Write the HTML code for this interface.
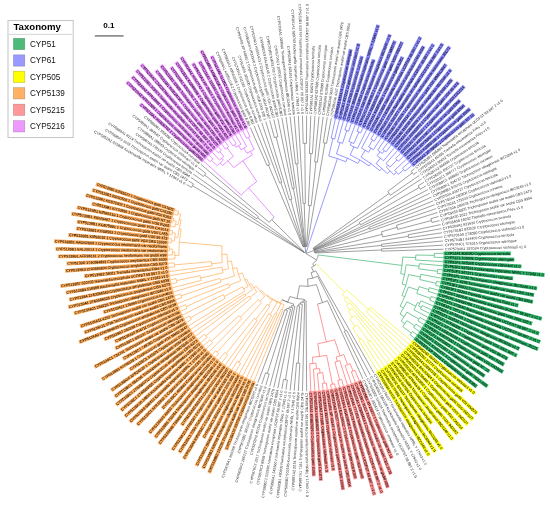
<!DOCTYPE html>
<html><head><meta charset="utf-8"><title>Phylogenetic tree</title>
<style>html,body{margin:0;padding:0;background:#fff}svg{display:block}text{font-family:"Liberation Sans",Arial,sans-serif}</style>
</head><body>
<svg width="550" height="505" viewBox="0 0 550 505">
<rect width="550" height="505" fill="#fff"/>
<g stroke-linecap="butt">
<path d="M305.33 253.03A0.60 0.60 0 0 1 306.31 253.72M305.33 253.03L304.22 252.18M304.08 252.37A2.00 2.00 0 0 1 304.38 251.99M304.08 252.37L192.49 185.69M191.48 187.40A132.00 132.00 0 0 1 193.52 183.99M191.48 187.40L186.46 184.50M193.52 183.99L188.59 180.94M304.13 252.30L190.82 177.45M304.19 252.21L257.55 217.74M256.75 218.84A60.00 60.00 0 0 1 258.36 216.66M256.75 218.84L193.16 174.02M258.36 216.66L204.60 175.02M203.44 176.55A128.00 128.00 0 0 1 205.79 173.51M203.44 176.55L195.60 170.67M205.79 173.51L198.14 167.39M304.38 251.99L271.64 219.68M269.22 222.33A48.00 48.00 0 0 1 274.25 217.22M269.22 222.33L200.77 164.19M305.73 252.80L305.00 246.45M303.07 246.95A7.00 7.00 0 0 1 306.99 246.50M303.07 246.95L268.40 164.99M267.07 165.56A96.00 96.00 0 0 1 269.73 164.43M267.07 165.56L250.21 127.31M269.73 164.43L254.03 125.70M303.47 246.80L280.79 182.69M279.72 183.08A75.00 75.00 0 0 1 281.85 182.33M279.72 183.08L257.89 124.20M281.85 182.33L261.80 122.81M303.92 246.66L290.74 199.46M289.52 199.82A56.00 56.00 0 0 1 291.96 199.14M289.52 199.82L265.75 121.55M291.96 199.14L276.14 137.12M274.39 137.58A120.00 120.00 0 0 1 277.89 136.69M274.39 137.58L269.73 120.40M277.89 136.69L273.75 119.38M304.48 246.53L293.36 188.58M292.39 188.78A66.00 66.00 0 0 1 294.34 188.40M292.39 188.78L277.80 118.47M294.34 188.40L281.87 117.69M304.79 246.47L285.97 117.03M305.11 246.43L296.88 163.84M295.53 163.99A90.00 90.00 0 0 1 298.23 163.72M295.53 163.99L290.08 116.50M298.23 163.72L294.20 116.09M305.58 246.40L304.22 203.42M303.09 203.47A50.00 50.00 0 0 1 305.35 203.40M303.09 203.47L298.34 115.80M305.35 203.40L304.81 143.40M303.15 143.43A110.00 110.00 0 0 1 306.46 143.40M303.15 143.43L302.48 115.64M306.46 143.40L306.63 115.60M306.37 246.42L309.70 205.56M308.25 205.46A48.00 48.00 0 0 1 311.13 205.70M308.25 205.46L310.91 153.53M309.41 153.47A100.00 100.00 0 0 1 312.42 153.62M309.41 153.47L310.77 115.69M312.42 153.62L314.92 115.90M311.13 205.70L316.02 161.97M314.65 161.83A92.00 92.00 0 0 1 317.40 162.13M314.65 161.83L319.05 116.24M317.40 162.13L323.17 116.70M306.99 246.50L324.92 143.04M323.25 142.77A112.00 112.00 0 0 1 326.57 143.34M323.25 142.77L327.27 117.28M326.57 143.34L331.36 117.99M306.37 253.20L314.30 250.44M313.10 248.14A9.00 9.00 0 0 1 314.79 252.99M313.10 248.14L389.16 193.33M387.79 191.46A102.75 102.75 0 0 1 390.50 195.23M387.79 191.46L412.39 172.87M411.17 171.28A133.59 133.59 0 0 1 413.59 174.49M411.17 171.28L414.49 168.69M413.59 174.49L416.99 172.00M390.50 195.23L419.39 175.38M313.37 248.53L421.68 178.84M313.68 249.05L359.91 223.56M359.22 222.34A61.79 61.79 0 0 1 360.57 224.79M359.22 222.34L419.13 187.51M418.13 185.81A131.09 131.09 0 0 1 420.11 189.22M418.13 185.81L423.87 182.36M420.11 189.22L425.96 185.94M360.57 224.79L427.93 189.59M313.90 249.47L429.80 193.29M314.01 249.72L431.55 197.05M314.17 250.09L369.24 228.34M368.86 227.39A68.21 68.21 0 0 1 369.61 229.30M368.86 227.39L433.19 200.86M369.61 229.30L434.71 204.71M314.31 250.48L436.12 208.62M314.53 251.22L382.11 234.36M381.43 231.79A78.65 78.65 0 0 1 382.72 236.95M381.43 231.79L397.12 227.30M396.51 225.25A94.98 94.98 0 0 1 397.69 229.37M396.51 225.25L437.41 212.56M397.69 229.37L431.41 220.55M430.90 218.67A129.84 129.84 0 0 1 431.89 222.44M430.90 218.67L438.58 216.53M431.89 222.44L439.63 220.55M382.72 236.95L440.55 224.59M314.68 251.92L408.42 236.26M408.15 234.72A104.05 104.05 0 0 1 408.67 237.80M408.15 234.72L441.36 228.65M408.67 237.80L442.04 232.74M314.75 252.45L381.60 245.39M381.47 244.25A76.22 76.22 0 0 1 381.71 246.53M381.47 244.25L442.60 236.85M381.71 246.53L443.04 240.98M314.79 252.99L381.68 249.97M381.62 248.83A75.95 75.95 0 0 1 381.72 251.11M381.62 248.83L443.35 245.11M381.72 251.11L443.54 249.25M306.31 253.72L316.44 259.96M318.20 254.95A12.50 12.50 0 0 1 312.74 263.79M312.74 263.79L314.13 265.87M316.39 264.02A15.00 15.00 0 0 1 311.56 267.25M311.56 267.25L313.47 271.87M315.70 270.78A20.00 20.00 0 0 1 311.14 272.68M315.70 270.78L373.98 373.15M311.14 272.68L312.66 278.17M317.50 276.28A25.70 25.70 0 0 1 307.54 279.04M317.50 276.28L345.39 330.87M346.55 330.27A87.00 87.00 0 0 1 344.22 331.46M346.55 330.27L370.35 375.15M344.22 331.46L366.65 377.03M307.54 279.04L308.03 286.32M316.41 284.65A33.00 33.00 0 0 1 299.50 285.79M316.41 284.65L322.52 302.64M327.35 300.72A52.00 52.00 0 0 1 317.53 304.06M327.35 300.72L362.91 378.81M299.50 285.79L297.02 298.55M304.48 299.38A46.00 46.00 0 0 1 289.80 296.53M304.48 299.38L304.43 300.88M306.09 300.90A47.50 47.50 0 0 1 302.78 300.80M306.09 300.90L306.63 391.20M302.78 300.80L302.69 302.30M304.62 302.39A49.00 49.00 0 0 1 300.76 302.14M304.62 302.39L302.48 391.16M300.76 302.14L300.55 304.13M302.27 304.28A51.00 51.00 0 0 1 298.84 303.92M302.27 304.28L298.19 363.14M299.84 363.24A110.00 110.00 0 0 1 296.54 363.01M299.84 363.24L298.34 391.00M296.54 363.01L294.20 390.71M298.84 303.92L298.57 305.90M299.75 306.05A53.00 53.00 0 0 1 297.38 305.73M299.75 306.05L290.08 390.30M297.38 305.73L285.47 379.78M287.38 380.07A128.00 128.00 0 0 1 283.57 379.46M287.38 380.07L285.97 389.77M283.57 379.46L281.87 389.11M289.80 296.53L287.71 302.15M293.66 303.96A52.00 52.00 0 0 1 288.30 302.37M293.66 303.96L293.19 305.91M294.83 306.27A54.00 54.00 0 0 1 291.57 305.49M294.83 306.27L277.80 388.33M291.57 305.49L291.04 307.42M292.78 307.86A56.00 56.00 0 0 1 289.32 306.92M292.78 307.86L273.75 387.42M289.32 306.92L288.73 308.83M290.62 309.38A58.00 58.00 0 0 1 286.87 308.22M290.62 309.38L269.73 386.40M286.87 308.22L286.21 310.11M287.50 310.54A60.00 60.00 0 0 1 284.94 309.66M287.50 310.54L267.37 373.40M269.18 373.96A126.00 126.00 0 0 1 265.57 372.80M269.18 373.96L265.75 385.25M265.57 372.80L261.80 383.99M284.94 309.66L257.89 382.60" stroke="#6c6c6c" fill="none" stroke-width="0.66"/>
<path d="M274.25 217.22L248.62 187.83M241.22 195.11A87.00 87.00 0 0 1 256.84 181.48M241.22 195.11L203.51 161.07M256.84 181.48L242.77 160.82M233.71 167.68A112.00 112.00 0 0 1 252.48 154.90M233.71 167.68L227.89 160.76M222.62 165.46A121.05 121.05 0 0 1 233.42 156.38M222.62 165.46L220.22 162.92M217.21 165.87A124.54 124.54 0 0 1 223.33 160.08M217.21 165.87L211.54 160.27M210.15 161.70A132.51 132.51 0 0 1 212.95 158.86M210.15 161.70L206.33 158.03M212.95 158.86L209.24 155.09M223.33 160.08L221.68 158.20M219.55 160.13A127.04 127.04 0 0 1 223.85 156.33M219.55 160.13L212.25 152.22M223.85 156.33L219.91 151.67M218.39 152.97A133.14 133.14 0 0 1 221.45 150.39M218.39 152.97L215.33 149.46M221.45 150.39L218.50 146.78M233.42 156.38L227.06 147.86M225.48 149.05A131.68 131.68 0 0 1 228.66 146.69M225.48 149.05L221.75 144.20M228.66 146.69L225.07 141.72M252.48 154.90L250.51 151.26M246.90 153.31A116.14 116.14 0 0 1 254.20 149.35M246.90 153.31L243.86 148.14M241.11 149.80A122.14 122.14 0 0 1 246.65 146.54M241.11 149.80L238.58 145.75M236.17 147.30A126.91 126.91 0 0 1 241.02 144.26M236.17 147.30L234.52 144.79M232.89 145.87A129.91 129.91 0 0 1 236.16 143.73M232.89 145.87L228.47 139.34M236.16 143.73L231.94 137.07M241.02 144.26L235.47 134.90M246.65 146.54L239.07 132.84M254.20 149.35L248.27 137.39M246.53 138.27A129.49 129.49 0 0 1 250.02 136.54M246.53 138.27L242.72 130.88M250.02 136.54L246.44 129.04" stroke="#DD5CFF" fill="none" stroke-width="0.66"/>
<path d="M305.99 252.83L337.43 158.54M328.76 156.07A100.00 100.00 0 0 1 345.85 161.77M328.76 156.07L332.90 138.55M331.17 138.16A118.00 118.00 0 0 1 334.62 138.97M331.17 138.16L335.42 118.82M334.62 138.97L339.46 119.77M345.85 161.77L347.45 158.10M336.48 154.03A104.00 104.00 0 0 1 357.89 163.39M336.48 154.03L340.02 142.56M337.51 141.82A116.00 116.00 0 0 1 342.51 143.36M337.51 141.82L343.46 120.85M342.51 143.36L346.76 130.61M344.91 130.01A129.44 129.44 0 0 1 348.60 131.24M344.91 130.01L347.43 122.04M348.60 131.24L351.37 123.35M357.89 163.39L359.90 159.93M350.19 154.94A108.00 108.00 0 0 1 369.05 165.86M350.19 154.94L353.89 146.74M350.25 145.17A117.00 117.00 0 0 1 357.47 148.43M350.25 145.17L351.37 142.43M348.86 141.43A119.96 119.96 0 0 1 353.87 143.49M348.86 141.43L355.26 124.78M353.87 143.49L358.88 132.03M357.05 131.25A132.47 132.47 0 0 1 360.70 132.84M357.05 131.25L359.11 126.33M360.70 132.84L362.91 127.99M357.47 148.43L366.65 129.77M369.05 165.86L370.81 163.43M361.08 157.15A111.00 111.00 0 0 1 379.83 170.69M361.08 157.15L365.07 150.21M361.54 148.26A119.00 119.00 0 0 1 368.53 152.27M361.54 148.26L370.35 131.65M368.53 152.27L371.04 148.23M368.65 146.78A123.76 123.76 0 0 1 373.39 149.73M368.65 146.78L372.58 140.10M370.87 139.11A131.52 131.52 0 0 1 374.28 141.12M370.87 139.11L373.98 133.65M374.28 141.12L377.55 135.75M373.39 149.73L381.06 137.97M379.83 170.69L381.83 168.46M376.08 163.64A114.00 114.00 0 0 1 387.25 173.64M376.08 163.64L380.40 158.13M377.13 155.66A121.00 121.00 0 0 1 383.58 160.71M377.13 155.66L379.99 151.74M377.68 150.09A125.86 125.86 0 0 1 382.27 153.44M377.68 150.09L384.50 140.28M382.27 153.44L384.37 150.69M382.82 149.52A129.32 129.32 0 0 1 385.91 151.88M382.82 149.52L387.87 142.70M385.91 151.88L391.16 145.22M383.58 160.71L394.38 147.84M387.25 173.64L390.11 170.84M386.30 167.12A118.00 118.00 0 0 1 393.75 174.73M386.30 167.12L388.01 165.29M386.00 163.46A120.50 120.50 0 0 1 389.98 167.17M386.00 163.46L397.51 150.55M389.98 167.17L397.03 159.95M395.61 158.59A130.60 130.60 0 0 1 398.42 161.33M395.61 158.59L400.56 153.36M398.42 161.33L403.53 156.25M393.75 174.73L396.52 172.26M394.66 170.23A121.71 121.71 0 0 1 398.33 174.33M394.66 170.23L406.41 159.24M398.33 174.33L403.75 169.69M402.48 168.23A128.85 128.85 0 0 1 405.00 171.18M402.48 168.23L409.20 162.31M405.00 171.18L411.89 165.46" stroke="#6464FF" fill="none" stroke-width="0.66"/>
<path d="M318.20 254.95L402.06 265.40M402.73 257.05A97.00 97.00 0 0 1 400.66 273.66M402.73 257.05L415.72 257.54M415.79 255.05A110.00 110.00 0 0 1 415.60 260.02M415.79 255.05L434.28 255.33M434.29 253.40A128.49 128.49 0 0 1 434.24 257.27M434.29 253.40L443.60 253.40M434.24 257.27L443.54 257.55M415.60 260.02L443.35 261.69M400.66 273.66L404.57 274.49M406.16 264.77A101.00 101.00 0 0 1 402.05 284.02M406.16 264.77L419.07 266.24M419.34 263.68A114.00 114.00 0 0 1 418.76 268.79M419.34 263.68L443.04 265.82M418.76 268.79L437.44 271.34M437.70 269.35A132.86 132.86 0 0 1 437.16 273.31M437.70 269.35L442.60 269.95M437.16 273.31L442.04 274.06M402.05 284.02L405.86 285.23M408.64 274.58A105.00 105.00 0 0 1 401.98 295.53M408.64 274.58L420.39 277.00M420.90 274.41A117.00 117.00 0 0 1 419.83 279.58M420.90 274.41L441.36 278.15M419.83 279.58L436.13 283.32M436.57 281.36A133.72 133.72 0 0 1 435.67 285.28M436.57 281.36L440.55 282.21M435.67 285.28L439.63 286.25M401.98 295.53L404.73 296.73M408.45 286.96A108.00 108.00 0 0 1 400.07 306.09M408.45 286.96L417.96 290.07M419.01 286.68A118.00 118.00 0 0 1 416.80 293.42M419.01 286.68L428.82 289.56M429.35 287.70A128.22 128.22 0 0 1 428.26 291.40M429.35 287.70L438.58 290.27M428.26 291.40L437.41 294.24M416.80 293.42L430.50 298.36M431.16 296.48A132.56 132.56 0 0 1 429.81 300.23M431.16 296.48L436.12 298.18M429.81 300.23L434.71 302.09M400.07 306.09L403.56 308.04M406.77 301.88A112.00 112.00 0 0 1 399.99 314.00M406.77 301.88L415.78 306.20M417.50 302.45A122.00 122.00 0 0 1 413.93 309.90M417.50 302.45L419.79 303.46M420.89 300.87A124.50 124.50 0 0 1 418.64 306.02M420.89 300.87L433.19 305.94M418.64 306.02L421.35 307.28M422.15 305.54A127.50 127.50 0 0 1 420.53 309.02M422.15 305.54L431.55 309.75M420.53 309.02L429.80 313.51M413.93 309.90L427.93 317.21M399.99 314.00L404.19 316.71M406.95 312.20A117.00 117.00 0 0 1 401.24 321.08M406.95 312.20L418.94 319.17M419.91 317.46A130.87 130.87 0 0 1 417.93 320.87M419.91 317.46L425.96 320.86M417.93 320.87L423.87 324.44M401.24 321.08L404.89 323.68M406.96 320.66A121.48 121.48 0 0 1 402.73 326.63M406.96 320.66L414.77 325.85M415.84 324.21A130.85 130.85 0 0 1 413.66 327.48M415.84 324.21L421.68 327.96M413.66 327.48L419.39 331.42M402.73 326.63L411.37 333.15M412.56 331.56A132.31 132.31 0 0 1 410.16 334.73M412.56 331.56L416.99 334.80M410.16 334.73L414.49 338.11" stroke="#35AE6A" fill="none" stroke-width="0.66"/>
<path d="M316.39 264.02L344.64 292.34M346.79 290.07A55.00 55.00 0 0 1 342.37 294.48M346.79 290.07L368.41 309.40M370.47 307.01A84.00 84.00 0 0 1 366.26 311.71M370.47 307.01L411.89 341.34M368.83 308.93L409.20 344.49M366.26 311.71L380.65 325.60M381.73 324.47A104.00 104.00 0 0 1 379.56 326.72M381.73 324.47L406.41 347.56M379.56 326.72L403.53 350.55M342.37 294.48L345.69 298.22M347.06 296.96A60.00 60.00 0 0 1 344.28 299.44M347.06 296.96L400.56 353.44M344.28 299.44L348.13 304.04M349.73 302.66A66.00 66.00 0 0 1 346.49 305.37M349.73 302.66L397.51 356.25M346.49 305.37L350.19 310.09M352.08 308.56A72.00 72.00 0 0 1 348.24 311.56M352.08 308.56L394.38 358.96M348.24 311.56L352.37 317.21M354.74 315.42A79.00 79.00 0 0 1 349.94 318.92M354.74 315.42L391.16 361.58M349.94 318.92L354.97 326.38M357.14 324.87A88.00 88.00 0 0 1 352.75 327.83M357.14 324.87L368.81 341.12M370.12 340.16A108.00 108.00 0 0 1 367.48 342.05M370.12 340.16L387.87 364.10M367.48 342.05L384.50 366.52M352.75 327.83L360.22 339.67M361.51 338.84A102.00 102.00 0 0 1 358.91 340.48M361.51 338.84L381.06 368.83M358.91 340.48L377.55 371.05" stroke="#F5EE30" fill="none" stroke-width="0.66"/>
<path d="M317.53 304.06L326.32 342.06M334.60 339.72A91.00 91.00 0 0 1 317.86 343.60M334.60 339.72L339.98 355.85M343.80 354.49A108.00 108.00 0 0 1 336.10 357.06M343.80 354.49L347.63 364.66M350.13 363.69A118.87 118.87 0 0 1 345.11 365.58M350.13 363.69L353.09 371.07M354.86 370.34A126.81 126.81 0 0 1 351.32 371.76M354.86 370.34L359.11 380.47M351.32 371.76L355.26 382.02M345.11 365.58L351.37 383.45M336.10 357.06L337.34 361.32M339.77 360.58A112.43 112.43 0 0 1 334.90 362.00M339.77 360.58L347.43 384.76M334.90 362.00L339.72 379.97M341.62 379.45A131.04 131.04 0 0 1 337.81 380.47M341.62 379.45L343.46 385.95M337.81 380.47L339.46 387.03M317.86 343.60L319.59 356.48M326.63 355.29A104.00 104.00 0 0 1 312.48 357.18M326.63 355.29L332.53 384.20M334.50 383.78A133.51 133.51 0 0 1 330.56 384.59M334.50 383.78L335.42 387.98M330.56 384.59L331.36 388.81M312.48 357.18L312.89 363.48M315.99 363.23A110.31 110.31 0 0 1 309.78 363.63M315.99 363.23L316.51 368.86M319.55 368.53A115.95 115.95 0 0 1 313.47 369.10M319.55 368.53L320.09 373.02M322.78 372.67A120.47 120.47 0 0 1 317.38 373.31M322.78 372.67L324.28 383.19M326.23 382.90A131.10 131.10 0 0 1 322.32 383.45M326.23 382.90L327.27 389.52M322.32 383.45L323.17 390.10M317.38 373.31L319.05 390.56M313.47 369.10L314.92 390.90M309.78 363.63L310.77 391.11" stroke="#FF6464" fill="none" stroke-width="0.66"/>
<path d="M282.03 299.65L280.29 303.04M284.06 304.80A55.81 55.81 0 0 1 276.66 301.00M284.06 304.80L281.90 309.89M282.75 310.24A61.34 61.34 0 0 1 281.05 309.52M282.75 310.24L254.03 381.10M281.05 309.52L250.21 379.49M276.66 301.00L276.42 301.39M280.80 303.81A56.27 56.27 0 0 1 272.27 298.59M280.80 303.81L275.89 313.71M276.80 314.15A67.32 67.32 0 0 1 274.99 313.25M276.80 314.15L246.44 377.76M274.99 313.25L242.72 375.92M272.27 298.59L271.99 298.96M277.21 302.40A56.73 56.73 0 0 1 267.19 294.96M277.21 302.40L270.17 314.48M271.55 315.27A70.72 70.72 0 0 1 268.80 313.66M271.55 315.27L239.07 373.96M268.80 313.66L238.96 362.25M240.61 363.24A127.73 127.73 0 0 1 237.33 361.23M240.61 363.24L235.47 371.90M237.33 361.23L231.94 369.73M267.19 294.96L266.51 295.69M272.16 300.31A57.72 57.72 0 0 1 261.49 290.39M272.16 300.31L268.55 305.34M269.93 306.30A63.92 63.92 0 0 1 267.20 304.34M269.93 306.30L228.47 367.46M267.20 304.34L255.74 319.46M257.24 320.58A82.89 82.89 0 0 1 254.26 318.32M257.24 320.58L225.07 365.08M254.26 318.32L226.16 353.70M227.68 354.89A128.08 128.08 0 0 1 224.66 352.50M227.68 354.89L221.75 362.60M224.66 352.50L218.50 360.02M261.49 290.39L260.26 291.41M264.72 296.19A59.32 59.32 0 0 1 256.36 286.18M264.72 296.19L259.87 301.23M261.52 302.76A66.31 66.31 0 0 1 258.28 299.65M261.52 302.76L217.19 352.17M218.69 353.49A132.69 132.69 0 0 1 215.71 350.82M218.69 353.49L215.33 357.34M215.71 350.82L212.25 354.58M258.28 299.65L240.39 317.06M241.84 318.52A91.28 91.28 0 0 1 238.97 315.57M241.84 318.52L209.24 351.71M238.97 315.57L211.36 341.26M212.69 342.67A128.99 128.99 0 0 1 210.04 339.83M212.69 342.67L206.33 348.77M210.04 339.83L203.51 345.73M256.36 286.18L253.83 287.86M256.79 291.95A62.36 62.36 0 0 1 251.21 283.54M256.79 291.95L249.98 297.31M250.99 298.55A71.01 71.01 0 0 1 249.01 296.04M250.99 298.55L205.79 335.79M207.04 337.29A129.58 129.58 0 0 1 204.56 334.28M207.04 337.29L200.77 342.61M204.56 334.28L198.14 339.41M249.01 296.04L195.60 336.13M251.21 283.54L249.32 284.58M252.51 289.76A64.51 64.51 0 0 1 246.63 279.11M252.51 289.76L245.03 294.87M245.66 295.78A73.57 73.57 0 0 1 244.42 293.95M245.66 295.78L193.16 332.78M244.42 293.95L190.82 329.35M246.63 279.11L244.93 279.85M248.20 286.37A66.37 66.37 0 0 1 242.40 273.02M248.20 286.37L243.65 288.97M244.89 291.06A71.61 71.61 0 0 1 242.48 286.85M244.89 291.06L188.59 325.86M242.48 286.85L224.17 296.52M225.17 298.35A92.31 92.31 0 0 1 223.22 294.66M225.17 298.35L190.39 317.74M191.37 319.47A132.13 132.13 0 0 1 189.44 315.99M191.37 319.47L186.46 322.30M189.44 315.99L184.44 318.68M223.22 294.66L182.53 315.00M242.40 273.02L238.45 274.24M240.74 280.58A70.50 70.50 0 0 1 236.77 267.71M240.74 280.58L229.25 285.38M229.99 287.10A82.96 82.96 0 0 1 228.55 283.64M229.99 287.10L186.23 306.55M187.04 308.34A130.85 130.85 0 0 1 185.44 304.75M187.04 308.34L180.74 311.26M185.44 304.75L179.05 307.47M228.55 283.64L177.48 303.63M236.77 267.71L232.63 268.57M234.53 275.87A74.72 74.72 0 0 1 231.48 261.12M234.53 275.87L220.36 280.34M220.99 282.26A89.58 89.58 0 0 1 219.78 278.40M220.99 282.26L181.08 295.84M181.73 297.71A131.75 131.75 0 0 1 180.45 293.96M181.73 297.71L176.03 299.75M180.45 293.96L174.69 295.82M219.78 278.40L173.48 291.86M231.48 261.12L227.42 261.54M228.52 268.77A78.80 78.80 0 0 1 227.01 254.24M228.52 268.77L222.53 269.96M223.14 272.77A84.90 84.90 0 0 1 222.02 267.14M223.14 272.77L200.64 278.04M201.22 280.41A108.01 108.01 0 0 1 200.11 275.67M201.22 280.41L172.38 287.86M200.11 275.67L176.44 280.65M176.86 282.60A132.20 132.20 0 0 1 176.04 278.70M176.86 282.60L171.40 283.83M176.04 278.70L170.55 279.77M222.02 267.14L169.82 275.69M227.01 254.24L221.79 254.29M222.29 262.61A84.01 84.01 0 0 1 222.12 245.97M222.29 262.61L211.65 263.78M211.91 265.91A94.72 94.72 0 0 1 211.44 261.66M211.91 265.91L169.21 271.59M211.44 261.66L174.46 264.89M174.65 266.87A131.84 131.84 0 0 1 174.31 262.91M174.65 266.87L168.72 267.47M174.31 262.91L168.36 263.34M222.12 245.97L179.30 242.16M178.82 255.41A127.00 127.00 0 0 1 181.16 229.05M178.82 255.41L174.82 255.47M174.92 258.92A131.00 131.00 0 0 1 174.81 252.02M174.92 258.92L168.12 259.20M174.81 252.02L172.31 251.99M172.31 255.01A133.50 133.50 0 0 1 172.37 248.98M172.31 255.01L168.01 255.06M172.37 248.98L169.37 248.88M169.32 250.94A136.50 136.50 0 0 1 169.46 246.83M169.32 250.94L168.02 250.91M169.46 246.83L168.16 246.77M181.16 229.05L179.19 228.66M177.78 237.52A129.00 129.00 0 0 1 181.22 219.92M177.78 237.52L174.80 237.16M174.37 241.10A132.00 132.00 0 0 1 175.35 233.22M174.37 241.10L171.39 240.82M171.21 242.85A135.00 135.00 0 0 1 171.59 238.80M171.21 242.85L168.42 242.63M171.59 238.80L168.81 238.50M175.35 233.22L172.39 232.76M172.09 234.77A135.00 135.00 0 0 1 172.71 230.76M172.09 234.77L169.32 234.39M172.71 230.76L169.95 230.29M181.22 219.92L179.29 219.40M177.99 224.66A131.00 131.00 0 0 1 180.80 214.20M177.99 224.66L175.55 224.11M174.92 227.06A133.50 133.50 0 0 1 176.25 221.18M174.92 227.06L170.71 226.21M176.25 221.18L173.33 220.46M172.85 222.45A136.50 136.50 0 0 1 173.85 218.47M172.85 222.45L171.59 222.16M173.85 218.47L172.59 218.14M180.80 214.20L177.94 213.30M177.35 215.23A134.00 134.00 0 0 1 178.56 211.38M177.35 215.23L173.71 214.14M178.56 211.38L174.95 210.19" stroke="#FFA850" fill="none" stroke-width="0.66"/>
<path d="M288.30 302.37A52.00 52.00 0 0 1 282.03 299.65" stroke="#222" fill="none" stroke-width="0.66"/>
</g>
<g transform="translate(305.8,253.4)">
<rect transform="rotate(402.069)" x="-223.1" y="-1.9" width="85.3" height="3.8" fill="#EA90FF"/>
<rect transform="rotate(403.793)" x="-248.0" y="-1.9" width="110.2" height="3.8" fill="#EA90FF"/>
<rect transform="rotate(405.517)" x="-248.0" y="-1.9" width="110.2" height="3.8" fill="#EA90FF"/>
<rect transform="rotate(407.241)" x="-249.6" y="-1.9" width="111.8" height="3.8" fill="#EA90FF"/>
<rect transform="rotate(408.966)" x="-250.7" y="-1.9" width="112.9" height="3.8" fill="#EA90FF"/>
<rect transform="rotate(410.690)" x="-236.5" y="-1.9" width="98.7" height="3.8" fill="#EA90FF"/>
<rect transform="rotate(412.414)" x="-237.4" y="-1.9" width="99.6" height="3.8" fill="#EA90FF"/>
<rect transform="rotate(414.138)" x="-230.0" y="-1.9" width="92.2" height="3.8" fill="#EA90FF"/>
<rect transform="rotate(415.862)" x="-231.2" y="-1.9" width="93.4" height="3.8" fill="#EA90FF"/>
<rect transform="rotate(417.586)" x="-232.7" y="-1.9" width="94.9" height="3.8" fill="#EA90FF"/>
<rect transform="rotate(419.310)" x="-221.3" y="-1.9" width="83.5" height="3.8" fill="#EA90FF"/>
<rect transform="rotate(421.034)" x="-219.6" y="-1.9" width="81.8" height="3.8" fill="#EA90FF"/>
<rect transform="rotate(422.759)" x="-228.4" y="-1.9" width="90.6" height="3.8" fill="#EA90FF"/>
<rect transform="rotate(424.483)" x="-218.7" y="-1.9" width="80.9" height="3.8" fill="#EA90FF"/>
<rect transform="rotate(-77.586)" x="137.8" y="-1.9" width="71.4" height="3.8" fill="#8C8CFF"/>
<rect transform="rotate(-75.862)" x="137.8" y="-1.9" width="78.6" height="3.8" fill="#8C8CFF"/>
<rect transform="rotate(-74.138)" x="137.8" y="-1.9" width="67.4" height="3.8" fill="#8C8CFF"/>
<rect transform="rotate(-72.414)" x="137.8" y="-1.9" width="102.0" height="3.8" fill="#8C8CFF"/>
<rect transform="rotate(-70.690)" x="137.8" y="-1.9" width="67.8" height="3.8" fill="#8C8CFF"/>
<rect transform="rotate(-68.966)" x="137.8" y="-1.9" width="96.8" height="3.8" fill="#8C8CFF"/>
<rect transform="rotate(-67.241)" x="137.8" y="-1.9" width="92.7" height="3.8" fill="#8C8CFF"/>
<rect transform="rotate(-65.517)" x="137.8" y="-1.9" width="94.8" height="3.8" fill="#8C8CFF"/>
<rect transform="rotate(-63.793)" x="137.8" y="-1.9" width="81.4" height="3.8" fill="#8C8CFF"/>
<rect transform="rotate(-62.069)" x="137.8" y="-1.9" width="107.2" height="3.8" fill="#8C8CFF"/>
<rect transform="rotate(-60.345)" x="137.8" y="-1.9" width="100.7" height="3.8" fill="#8C8CFF"/>
<rect transform="rotate(-58.621)" x="137.8" y="-1.9" width="107.4" height="3.8" fill="#8C8CFF"/>
<rect transform="rotate(-56.897)" x="137.8" y="-1.9" width="112.8" height="3.8" fill="#8C8CFF"/>
<rect transform="rotate(-55.172)" x="137.8" y="-1.9" width="114.2" height="3.8" fill="#8C8CFF"/>
<rect transform="rotate(-53.448)" x="137.8" y="-1.9" width="97.9" height="3.8" fill="#8C8CFF"/>
<rect transform="rotate(-51.724)" x="137.8" y="-1.9" width="96.6" height="3.8" fill="#8C8CFF"/>
<rect transform="rotate(-50.000)" x="137.8" y="-1.9" width="89.6" height="3.8" fill="#8C8CFF"/>
<rect transform="rotate(-48.276)" x="137.8" y="-1.9" width="91.5" height="3.8" fill="#8C8CFF"/>
<rect transform="rotate(-46.552)" x="137.8" y="-1.9" width="92.6" height="3.8" fill="#8C8CFF"/>
<rect transform="rotate(-44.828)" x="137.8" y="-1.9" width="79.7" height="3.8" fill="#8C8CFF"/>
<rect transform="rotate(-43.103)" x="137.8" y="-1.9" width="79.4" height="3.8" fill="#8C8CFF"/>
<rect transform="rotate(-41.379)" x="137.8" y="-1.9" width="81.1" height="3.8" fill="#8C8CFF"/>
<rect transform="rotate(-39.655)" x="137.8" y="-1.9" width="80.7" height="3.8" fill="#8C8CFF"/>
<rect transform="rotate(0.000)" x="137.8" y="-1.9" width="67.2" height="3.8" fill="#30B56A"/>
<rect transform="rotate(1.724)" x="137.8" y="-1.9" width="70.8" height="3.8" fill="#30B56A"/>
<rect transform="rotate(3.448)" x="137.8" y="-1.9" width="78.2" height="3.8" fill="#30B56A"/>
<rect transform="rotate(5.172)" x="137.8" y="-1.9" width="101.9" height="3.8" fill="#30B56A"/>
<rect transform="rotate(6.897)" x="137.8" y="-1.9" width="71.0" height="3.8" fill="#30B56A"/>
<rect transform="rotate(8.621)" x="137.8" y="-1.9" width="96.1" height="3.8" fill="#30B56A"/>
<rect transform="rotate(10.345)" x="137.8" y="-1.9" width="94.3" height="3.8" fill="#30B56A"/>
<rect transform="rotate(12.069)" x="137.8" y="-1.9" width="94.5" height="3.8" fill="#30B56A"/>
<rect transform="rotate(13.793)" x="137.8" y="-1.9" width="81.0" height="3.8" fill="#30B56A"/>
<rect transform="rotate(15.517)" x="137.8" y="-1.9" width="107.1" height="3.8" fill="#30B56A"/>
<rect transform="rotate(17.241)" x="137.8" y="-1.9" width="99.2" height="3.8" fill="#30B56A"/>
<rect transform="rotate(18.966)" x="137.8" y="-1.9" width="108.9" height="3.8" fill="#30B56A"/>
<rect transform="rotate(20.690)" x="137.8" y="-1.9" width="112.8" height="3.8" fill="#30B56A"/>
<rect transform="rotate(22.414)" x="137.8" y="-1.9" width="113.5" height="3.8" fill="#30B56A"/>
<rect transform="rotate(24.138)" x="137.8" y="-1.9" width="96.2" height="3.8" fill="#30B56A"/>
<rect transform="rotate(25.862)" x="137.8" y="-1.9" width="96.9" height="3.8" fill="#30B56A"/>
<rect transform="rotate(27.586)" x="137.8" y="-1.9" width="90.0" height="3.8" fill="#30B56A"/>
<rect transform="rotate(29.310)" x="137.8" y="-1.9" width="89.6" height="3.8" fill="#30B56A"/>
<rect transform="rotate(31.034)" x="137.8" y="-1.9" width="92.4" height="3.8" fill="#30B56A"/>
<rect transform="rotate(32.759)" x="137.8" y="-1.9" width="80.5" height="3.8" fill="#30B56A"/>
<rect transform="rotate(34.483)" x="137.8" y="-1.9" width="79.2" height="3.8" fill="#30B56A"/>
<rect transform="rotate(36.207)" x="137.8" y="-1.9" width="87.5" height="3.8" fill="#30B56A"/>
<rect transform="rotate(37.931)" x="137.8" y="-1.9" width="79.1" height="3.8" fill="#30B56A"/>
<rect transform="rotate(39.655)" x="137.8" y="-1.9" width="81.9" height="3.8" fill="#FFFF00"/>
<rect transform="rotate(41.379)" x="137.8" y="-1.9" width="71.3" height="3.8" fill="#FFFF00"/>
<rect transform="rotate(43.103)" x="137.8" y="-1.9" width="96.8" height="3.8" fill="#FFFF00"/>
<rect transform="rotate(44.828)" x="137.8" y="-1.9" width="98.0" height="3.8" fill="#FFFF00"/>
<rect transform="rotate(46.552)" x="137.8" y="-1.9" width="98.0" height="3.8" fill="#FFFF00"/>
<rect transform="rotate(48.276)" x="137.8" y="-1.9" width="97.8" height="3.8" fill="#FFFF00"/>
<rect transform="rotate(50.000)" x="137.8" y="-1.9" width="98.3" height="3.8" fill="#FFFF00"/>
<rect transform="rotate(51.724)" x="137.8" y="-1.9" width="99.6" height="3.8" fill="#FFFF00"/>
<rect transform="rotate(53.448)" x="137.8" y="-1.9" width="74.1" height="3.8" fill="#FFFF00"/>
<rect transform="rotate(55.172)" x="137.8" y="-1.9" width="101.2" height="3.8" fill="#FFFF00"/>
<rect transform="rotate(56.897)" x="137.8" y="-1.9" width="99.4" height="3.8" fill="#FFFF00"/>
<rect transform="rotate(58.621)" x="137.8" y="-1.9" width="99.1" height="3.8" fill="#FFFF00"/>
<rect transform="rotate(67.241)" x="137.8" y="-1.9" width="84.7" height="3.8" fill="#FF9090"/>
<rect transform="rotate(68.966)" x="137.8" y="-1.9" width="99.1" height="3.8" fill="#FF9090"/>
<rect transform="rotate(70.690)" x="137.8" y="-1.9" width="110.7" height="3.8" fill="#FF9090"/>
<rect transform="rotate(72.414)" x="137.8" y="-1.9" width="113.9" height="3.8" fill="#FF9090"/>
<rect transform="rotate(74.138)" x="137.8" y="-1.9" width="113.6" height="3.8" fill="#FF9090"/>
<rect transform="rotate(75.862)" x="137.8" y="-1.9" width="94.7" height="3.8" fill="#FF9090"/>
<rect transform="rotate(77.586)" x="137.8" y="-1.9" width="93.3" height="3.8" fill="#FF9090"/>
<rect transform="rotate(79.310)" x="137.8" y="-1.9" width="100.2" height="3.8" fill="#FF9090"/>
<rect transform="rotate(81.034)" x="137.8" y="-1.9" width="101.7" height="3.8" fill="#FF9090"/>
<rect transform="rotate(82.759)" x="137.8" y="-1.9" width="81.5" height="3.8" fill="#FF9090"/>
<rect transform="rotate(84.483)" x="137.8" y="-1.9" width="82.6" height="3.8" fill="#FF9090"/>
<rect transform="rotate(86.207)" x="137.8" y="-1.9" width="90.2" height="3.8" fill="#FF9090"/>
<rect transform="rotate(87.931)" x="137.8" y="-1.9" width="85.3" height="3.8" fill="#FF9090"/>
<rect transform="rotate(292.069)" x="-212.0" y="-1.9" width="74.2" height="3.8" fill="#FFAE5C"/>
<rect transform="rotate(293.793)" x="-239.9" y="-1.9" width="102.1" height="3.8" fill="#FFAE5C"/>
<rect transform="rotate(295.517)" x="-238.6" y="-1.9" width="100.8" height="3.8" fill="#FFAE5C"/>
<rect transform="rotate(297.241)" x="-239.0" y="-1.9" width="101.2" height="3.8" fill="#FFAE5C"/>
<rect transform="rotate(298.966)" x="-211.1" y="-1.9" width="73.3" height="3.8" fill="#FFAE5C"/>
<rect transform="rotate(300.690)" x="-239.1" y="-1.9" width="101.3" height="3.8" fill="#FFAE5C"/>
<rect transform="rotate(302.414)" x="-236.0" y="-1.9" width="98.2" height="3.8" fill="#FFAE5C"/>
<rect transform="rotate(304.138)" x="-237.8" y="-1.9" width="100.0" height="3.8" fill="#FFAE5C"/>
<rect transform="rotate(305.862)" x="-212.1" y="-1.9" width="74.3" height="3.8" fill="#FFAE5C"/>
<rect transform="rotate(307.586)" x="-240.7" y="-1.9" width="102.9" height="3.8" fill="#FFAE5C"/>
<rect transform="rotate(309.310)" x="-238.2" y="-1.9" width="100.4" height="3.8" fill="#FFAE5C"/>
<rect transform="rotate(311.034)" x="-238.4" y="-1.9" width="100.6" height="3.8" fill="#FFAE5C"/>
<rect transform="rotate(312.759)" x="-211.6" y="-1.9" width="73.8" height="3.8" fill="#FFAE5C"/>
<rect transform="rotate(314.483)" x="-240.7" y="-1.9" width="102.9" height="3.8" fill="#FFAE5C"/>
<rect transform="rotate(316.207)" x="-243.8" y="-1.9" width="106.0" height="3.8" fill="#FFAE5C"/>
<rect transform="rotate(317.931)" x="-243.7" y="-1.9" width="105.9" height="3.8" fill="#FFAE5C"/>
<rect transform="rotate(319.655)" x="-242.7" y="-1.9" width="104.9" height="3.8" fill="#FFAE5C"/>
<rect transform="rotate(321.379)" x="-242.9" y="-1.9" width="105.1" height="3.8" fill="#FFAE5C"/>
<rect transform="rotate(323.103)" x="-238.8" y="-1.9" width="101.0" height="3.8" fill="#FFAE5C"/>
<rect transform="rotate(324.828)" x="-238.0" y="-1.9" width="100.2" height="3.8" fill="#FFAE5C"/>
<rect transform="rotate(326.552)" x="-211.2" y="-1.9" width="73.4" height="3.8" fill="#FFAE5C"/>
<rect transform="rotate(328.276)" x="-239.8" y="-1.9" width="102.0" height="3.8" fill="#FFAE5C"/>
<rect transform="rotate(330.000)" x="-211.2" y="-1.9" width="73.4" height="3.8" fill="#FFAE5C"/>
<rect transform="rotate(331.724)" x="-240.0" y="-1.9" width="102.2" height="3.8" fill="#FFAE5C"/>
<rect transform="rotate(333.448)" x="-213.1" y="-1.9" width="75.3" height="3.8" fill="#FFAE5C"/>
<rect transform="rotate(335.172)" x="-210.4" y="-1.9" width="72.6" height="3.8" fill="#FFAE5C"/>
<rect transform="rotate(336.897)" x="-219.3" y="-1.9" width="81.5" height="3.8" fill="#FFAE5C"/>
<rect transform="rotate(338.621)" x="-243.5" y="-1.9" width="105.7" height="3.8" fill="#FFAE5C"/>
<rect transform="rotate(340.345)" x="-235.4" y="-1.9" width="97.6" height="3.8" fill="#FFAE5C"/>
<rect transform="rotate(342.069)" x="-237.2" y="-1.9" width="99.4" height="3.8" fill="#FFAE5C"/>
<rect transform="rotate(343.793)" x="-211.0" y="-1.9" width="73.2" height="3.8" fill="#FFAE5C"/>
<rect transform="rotate(345.517)" x="-239.5" y="-1.9" width="101.7" height="3.8" fill="#FFAE5C"/>
<rect transform="rotate(347.241)" x="-243.6" y="-1.9" width="105.8" height="3.8" fill="#FFAE5C"/>
<rect transform="rotate(348.966)" x="-241.2" y="-1.9" width="103.4" height="3.8" fill="#FFAE5C"/>
<rect transform="rotate(350.690)" x="-243.2" y="-1.9" width="105.4" height="3.8" fill="#FFAE5C"/>
<rect transform="rotate(352.414)" x="-247.6" y="-1.9" width="109.8" height="3.8" fill="#FFAE5C"/>
<rect transform="rotate(354.138)" x="-222.9" y="-1.9" width="85.1" height="3.8" fill="#FFAE5C"/>
<rect transform="rotate(355.862)" x="-241.3" y="-1.9" width="103.5" height="3.8" fill="#FFAE5C"/>
<rect transform="rotate(357.586)" x="-239.4" y="-1.9" width="101.6" height="3.8" fill="#FFAE5C"/>
<rect transform="rotate(359.310)" x="-247.9" y="-1.9" width="110.1" height="3.8" fill="#FFAE5C"/>
<rect transform="rotate(361.034)" x="-250.3" y="-1.9" width="112.5" height="3.8" fill="#FFAE5C"/>
<rect transform="rotate(362.759)" x="-252.1" y="-1.9" width="114.3" height="3.8" fill="#FFAE5C"/>
<rect transform="rotate(364.483)" x="-238.3" y="-1.9" width="100.5" height="3.8" fill="#FFAE5C"/>
<rect transform="rotate(366.207)" x="-231.0" y="-1.9" width="93.2" height="3.8" fill="#FFAE5C"/>
<rect transform="rotate(367.931)" x="-231.1" y="-1.9" width="93.3" height="3.8" fill="#FFAE5C"/>
<rect transform="rotate(369.655)" x="-237.8" y="-1.9" width="100.0" height="3.8" fill="#FFAE5C"/>
<rect transform="rotate(371.379)" x="-233.5" y="-1.9" width="95.7" height="3.8" fill="#FFAE5C"/>
<rect transform="rotate(373.103)" x="-219.8" y="-1.9" width="82.0" height="3.8" fill="#FFAE5C"/>
<rect transform="rotate(374.828)" x="-227.7" y="-1.9" width="89.9" height="3.8" fill="#FFAE5C"/>
<rect transform="rotate(376.552)" x="-223.0" y="-1.9" width="85.2" height="3.8" fill="#FFAE5C"/>
<rect transform="rotate(378.276)" x="-220.9" y="-1.9" width="83.1" height="3.8" fill="#FFAE5C"/>
<g font-size="36.3" fill="#000">
<text fill-opacity=".85" transform="rotate(390.000) translate(-243.99,1.27) scale(.1)" textLength="1047" lengthAdjust="spacingAndGlyphs">CYP5952A1 633808 Kockovaella imperatrix NRRL Y 17943 v1 0</text>
<text fill-opacity=".85" transform="rotate(391.724) translate(-235.52,1.27) scale(.1)" textLength="962" lengthAdjust="spacingAndGlyphs">CYP5886A3 3226 Trichosporon asahii var asahii CBS 2479</text>
<text fill-opacity=".85" transform="rotate(393.448) translate(-236.08,1.27) scale(.1)" textLength="968" lengthAdjust="spacingAndGlyphs">CYP5886A1 8219 Trichosporon asahii var asahii CBS 8904</text>
<text fill-opacity=".85" transform="rotate(395.172) translate(-207.71,1.27) scale(.1)" textLength="684" lengthAdjust="spacingAndGlyphs">CYP5887A6 778133 Cryptococcus terricola</text>
<text fill-opacity=".85" transform="rotate(396.897) translate(-209.66,1.27) scale(.1)" textLength="704" lengthAdjust="spacingAndGlyphs">CYP5888A1 288063 Cryptococcus wieringae</text>
<text fill-opacity=".85" transform="rotate(398.621) translate(-221.38,1.27) scale(.1)" textLength="821" lengthAdjust="spacingAndGlyphs">CYP5889A1 384587 Cryptococcus vishniacii v1 0</text>
<text fill-opacity=".85" transform="rotate(400.345) translate(-211.69,1.27) scale(.1)" textLength="724" lengthAdjust="spacingAndGlyphs">CYP5890B1 558288 Cryptococcus curvatus</text>
<text stroke="#000" stroke-width="0.45" stroke-opacity=".6" transform="rotate(402.069) translate(-222.26,1.27) scale(.1)" textLength="830" lengthAdjust="spacingAndGlyphs">CYP5216A2 KGB36762 2 Cryptococcus gattii E566</text>
<text stroke="#000" stroke-width="0.45" stroke-opacity=".6" transform="rotate(403.793) translate(-247.23,1.27) scale(.1)" textLength="1079" lengthAdjust="spacingAndGlyphs">CYP5216A2 AFR12328 1 Cryptococcus neoformans var grubii H99</text>
<text stroke="#000" stroke-width="0.45" stroke-opacity=".6" transform="rotate(405.517) translate(-247.19,1.27) scale(.1)" textLength="1079" lengthAdjust="spacingAndGlyphs">CYP5216A2 AFR13808 1 Cryptococcus neoformans var grubii H99</text>
<text stroke="#000" stroke-width="0.45" stroke-opacity=".6" transform="rotate(407.241) translate(-248.81,1.27) scale(.1)" textLength="1095" lengthAdjust="spacingAndGlyphs">CYP5216B1 309374 Naematelia encephala UCDFST 68 887 2 v1 0</text>
<text stroke="#000" stroke-width="0.45" stroke-opacity=".6" transform="rotate(408.966) translate(-249.89,1.27) scale(.1)" textLength="1106" lengthAdjust="spacingAndGlyphs">CYP5216A2 229028 Naematelia encephala UCDFST 68 887 2 v1 0</text>
<text stroke="#000" stroke-width="0.45" stroke-opacity=".6" transform="rotate(410.690) translate(-235.71,1.27) scale(.1)" textLength="964" lengthAdjust="spacingAndGlyphs">CYP5216B1 KGB24150 1 Cryptococcus gattii VGIV IND107</text>
<text stroke="#000" stroke-width="0.45" stroke-opacity=".6" transform="rotate(412.414) translate(-236.61,1.27) scale(.1)" textLength="973" lengthAdjust="spacingAndGlyphs">CYP5216B1 63588 Trichosporon asahii var asahii CBS 8904</text>
<text stroke="#000" stroke-width="0.45" stroke-opacity=".6" transform="rotate(414.138) translate(-229.19,1.27) scale(.1)" textLength="899" lengthAdjust="spacingAndGlyphs">CYP5216A1 KIR25186 2 Cryptococcus gattii VGII R265</text>
<text stroke="#000" stroke-width="0.45" stroke-opacity=".6" transform="rotate(415.862) translate(-230.40,1.27) scale(.1)" textLength="911" lengthAdjust="spacingAndGlyphs">CYP5216A2 KGB48996 2 Cryptococcus gattii VGII LA55</text>
<text stroke="#000" stroke-width="0.45" stroke-opacity=".6" transform="rotate(417.586) translate(-231.85,1.27) scale(.1)" textLength="926" lengthAdjust="spacingAndGlyphs">CYP5216A1 KIR47742 1 Cryptococcus gattii VGI WM276</text>
<text stroke="#000" stroke-width="0.45" stroke-opacity=".6" transform="rotate(419.310) translate(-220.52,1.27) scale(.1)" textLength="812" lengthAdjust="spacingAndGlyphs">CYP5216A2 XP 25914 2 Cryptococcus gattii EJB2</text>
<text stroke="#000" stroke-width="0.45" stroke-opacity=".6" transform="rotate(421.034) translate(-218.81,1.27) scale(.1)" textLength="795" lengthAdjust="spacingAndGlyphs">CYP5216A1 115566 Cryptococcus vishniacii v1 0</text>
<text stroke="#000" stroke-width="0.45" stroke-opacity=".6" transform="rotate(422.759) translate(-227.55,1.27) scale(.1)" textLength="883" lengthAdjust="spacingAndGlyphs">CYP5216B1 AAW32426 2 Cryptococcus gattii CA1280</text>
<text stroke="#000" stroke-width="0.45" stroke-opacity=".6" transform="rotate(424.483) translate(-217.89,1.27) scale(.1)" textLength="786" lengthAdjust="spacingAndGlyphs">CYP5216A2 511202 Cryptococcus vishniacii v1 0</text>
<text fill-opacity=".85" transform="rotate(426.207) translate(-220.33,1.27) scale(.1)" textLength="810" lengthAdjust="spacingAndGlyphs">CYP5264A1 KIR51118 2 Cryptococcus gattii EJB2</text>
<text fill-opacity=".85" transform="rotate(427.931) translate(-220.83,1.27) scale(.1)" textLength="815" lengthAdjust="spacingAndGlyphs">CYP5881A1 KIR60355 1 Cryptococcus gattii EJB2</text>
<text fill-opacity=".85" transform="rotate(429.655) translate(-209.75,1.27) scale(.1)" textLength="705" lengthAdjust="spacingAndGlyphs">CYP5706A1 811061 Cryptococcus curvatus</text>
<text fill-opacity=".85" transform="rotate(431.379) translate(-208.65,1.27) scale(.1)" textLength="693" lengthAdjust="spacingAndGlyphs">CYP53A59 325900 Cryptococcus curvatus</text>
<text fill-opacity=".85" transform="rotate(433.103) translate(-236.52,1.27) scale(.1)" textLength="972" lengthAdjust="spacingAndGlyphs">CYP53A59 XP 54882 2 Cryptococcus gattii VGII 2001 935 1</text>
<text fill-opacity=".85" transform="rotate(434.828) translate(-234.33,1.27) scale(.1)" textLength="950" lengthAdjust="spacingAndGlyphs">CYP5862A9 KIR33146 2 Cryptococcus gattii VGIV IND107</text>
<text fill-opacity=".85" transform="rotate(436.552) translate(-234.11,1.27) scale(.1)" textLength="948" lengthAdjust="spacingAndGlyphs">CYP5264A1 KIR61473 2 Cryptococcus gattii VGIV IND107</text>
<text fill-opacity=".85" transform="rotate(438.276) translate(-221.38,1.27) scale(.1)" textLength="821" lengthAdjust="spacingAndGlyphs">CYP5862A9 EAL83145 2 Cryptococcus gattii EJB2</text>
<text fill-opacity=".85" transform="rotate(440.000) translate(-220.83,1.27) scale(.1)" textLength="815" lengthAdjust="spacingAndGlyphs">CYP5701B2 KIR31753 2 Cryptococcus gattii EJB2</text>
<text fill-opacity=".85" transform="rotate(441.724) translate(-210.31,1.27) scale(.1)" textLength="710" lengthAdjust="spacingAndGlyphs">CYP5704C1 106012 Cryptococcus curvatus</text>
<text fill-opacity=".85" transform="rotate(443.448) translate(-239.16,1.27) scale(.1)" textLength="999" lengthAdjust="spacingAndGlyphs">CYP5706A1 289566 Trichosporon oleaginosus IBC0246 v1 0</text>
<text fill-opacity=".85" transform="rotate(445.172) translate(-208.16,1.27) scale(.1)" textLength="689" lengthAdjust="spacingAndGlyphs">CYP5679A1 823161 Cryptococcus terricola</text>
<text fill-opacity=".85" transform="rotate(446.897) translate(-244.30,1.27) scale(.1)" textLength="1050" lengthAdjust="spacingAndGlyphs">CYP5951A1 689743 Kockovaella imperatrix NRRL Y 17943 v1 0</text>
<text fill-opacity=".85" transform="rotate(448.621) translate(-249.49,1.27) scale(.1)" textLength="1102" lengthAdjust="spacingAndGlyphs">CYP5953B1 525797 Naematelia encephala UCDFST 68 887 2 v1 0</text>
<text fill-opacity=".85" transform="rotate(-89.655) translate(139.30,1.27) scale(.1)" textLength="1101" lengthAdjust="spacingAndGlyphs">CYP5136A3 563302 Naematelia encephala UCDFST 68 887 2 v1 0</text>
<text fill-opacity=".85" transform="rotate(-87.931) translate(139.30,1.27) scale(.1)" textLength="682" lengthAdjust="spacingAndGlyphs">CYP5881A1 63429 Cryptococcus terricola</text>
<text fill-opacity=".85" transform="rotate(-86.207) translate(139.30,1.27) scale(.1)" textLength="694" lengthAdjust="spacingAndGlyphs">CYP5881A2 637668 Cryptococcus terricola</text>
<text fill-opacity=".85" transform="rotate(-84.483) translate(139.30,1.27) scale(.1)" textLength="699" lengthAdjust="spacingAndGlyphs">CYP5881A3 875899 Cryptococcus wieringae</text>
<text fill-opacity=".85" transform="rotate(-82.759) translate(139.30,1.27) scale(.1)" textLength="689" lengthAdjust="spacingAndGlyphs">CYP5862A9 810584 Cryptococcus curvatus</text>
<text fill-opacity=".85" transform="rotate(-81.034) translate(139.30,1.27) scale(.1)" textLength="947" lengthAdjust="spacingAndGlyphs">CYP5862A8 3655 Trichosporon asahii var asahii CBS 2479</text>
<text fill-opacity=".85" transform="rotate(-79.310) translate(139.30,1.27) scale(.1)" textLength="948" lengthAdjust="spacingAndGlyphs">CYP5862A6 4147 Trichosporon asahii var asahii CBS 8904</text>
<text stroke="#000" stroke-width="0.45" stroke-opacity=".6" transform="rotate(-77.586) translate(139.30,1.27) scale(.1)" textLength="691" lengthAdjust="spacingAndGlyphs">CYP61A1 815474 Cryptococcus wieringae</text>
<text stroke="#000" stroke-width="0.45" stroke-opacity=".6" transform="rotate(-75.862) translate(139.30,1.27) scale(.1)" textLength="763" lengthAdjust="spacingAndGlyphs">CYP61A1 437222 Cryptococcus vishniacii v1 0</text>
<text stroke="#000" stroke-width="0.45" stroke-opacity=".6" transform="rotate(-74.138) translate(139.30,1.27) scale(.1)" textLength="651" lengthAdjust="spacingAndGlyphs">CYP61A1 32268 Cryptococcus curvatus</text>
<text stroke="#000" stroke-width="0.45" stroke-opacity=".6" transform="rotate(-72.414) translate(139.30,1.27) scale(.1)" textLength="997" lengthAdjust="spacingAndGlyphs">CYP61A1 580389 Kockovaella imperatrix NRRL Y 17943 v1 0</text>
<text stroke="#000" stroke-width="0.45" stroke-opacity=".6" transform="rotate(-70.690) translate(139.30,1.27) scale(.1)" textLength="655" lengthAdjust="spacingAndGlyphs">CYP61A1 114814 Cryptococcus terricola</text>
<text stroke="#000" stroke-width="0.45" stroke-opacity=".6" transform="rotate(-68.966) translate(139.30,1.27) scale(.1)" textLength="945" lengthAdjust="spacingAndGlyphs">CYP61A1 699748 Trichosporon oleaginosus IBC0246 v1 0</text>
<text stroke="#000" stroke-width="0.45" stroke-opacity=".6" transform="rotate(-67.241) translate(139.30,1.27) scale(.1)" textLength="904" lengthAdjust="spacingAndGlyphs">CYP61A1 AAW86912 2 Cryptococcus gattii VGI WM276</text>
<text stroke="#000" stroke-width="0.45" stroke-opacity=".6" transform="rotate(-65.517) translate(139.30,1.27) scale(.1)" textLength="925" lengthAdjust="spacingAndGlyphs">CYP61A1 KGB26105 1 Cryptococcus gattii VGIV IND107</text>
<text stroke="#000" stroke-width="0.45" stroke-opacity=".6" transform="rotate(-63.793) translate(139.30,1.27) scale(.1)" textLength="791" lengthAdjust="spacingAndGlyphs">CYP61A1 KGB74456 1 Cryptococcus gattii EJB2</text>
<text stroke="#000" stroke-width="0.45" stroke-opacity=".6" transform="rotate(-62.069) translate(139.30,1.27) scale(.1)" textLength="1049" lengthAdjust="spacingAndGlyphs">CYP61A1 212454 Naematelia encephala UCDFST 68 887 2 v1 0</text>
<text stroke="#000" stroke-width="0.45" stroke-opacity=".6" transform="rotate(-60.345) translate(139.30,1.27) scale(.1)" textLength="984" lengthAdjust="spacingAndGlyphs">CYP61A1 2740580340 Cryptococcus amylolentus CBS 6039</text>
<text stroke="#000" stroke-width="0.45" stroke-opacity=".6" transform="rotate(-58.621) translate(139.30,1.27) scale(.1)" textLength="1051" lengthAdjust="spacingAndGlyphs">CYP61A1 277156 Naematelia encephala UCDFST 68 887 2 v1 0</text>
<text stroke="#000" stroke-width="0.45" stroke-opacity=".6" transform="rotate(-56.897) translate(139.30,1.27) scale(.1)" textLength="1105" lengthAdjust="spacingAndGlyphs">CYP61A1 546977 Naematelia encephala UCDFST 68 887 2 v1 0</text>
<text stroke="#000" stroke-width="0.45" stroke-opacity=".6" transform="rotate(-55.172) translate(139.30,1.27) scale(.1)" textLength="1119" lengthAdjust="spacingAndGlyphs">CYP61A1 XP 25376 1 Cryptococcus neoformans var neoformans JEC21</text>
<text stroke="#000" stroke-width="0.45" stroke-opacity=".6" transform="rotate(-53.448) translate(139.30,1.27) scale(.1)" textLength="956" lengthAdjust="spacingAndGlyphs">CYP61A1 KIP98214 2 Cryptococcus gattii VGII MMRL2647</text>
<text stroke="#000" stroke-width="0.45" stroke-opacity=".6" transform="rotate(-51.724) translate(139.30,1.27) scale(.1)" textLength="943" lengthAdjust="spacingAndGlyphs">CYP61A1 119780 Trichosporon oleaginosus IBC0246 v1 0</text>
<text stroke="#000" stroke-width="0.45" stroke-opacity=".6" transform="rotate(-50.000) translate(139.30,1.27) scale(.1)" textLength="873" lengthAdjust="spacingAndGlyphs">CYP61A1 KGB68726 2 Cryptococcus gattii VGII LA55</text>
<text stroke="#000" stroke-width="0.45" stroke-opacity=".6" transform="rotate(-48.276) translate(139.30,1.27) scale(.1)" textLength="892" lengthAdjust="spacingAndGlyphs">CYP61A1 AFR62872 2 Cryptococcus gattii VGII 99 473</text>
<text stroke="#000" stroke-width="0.45" stroke-opacity=".6" transform="rotate(-46.552) translate(139.30,1.27) scale(.1)" textLength="903" lengthAdjust="spacingAndGlyphs">CYP61A1 KIR46217 1 Cryptococcus gattii VGII CA1014</text>
<text stroke="#000" stroke-width="0.45" stroke-opacity=".6" transform="rotate(-44.828) translate(139.30,1.27) scale(.1)" textLength="774" lengthAdjust="spacingAndGlyphs">CYP61A1 KIR72780 1 Cryptococcus gattii E566</text>
<text stroke="#000" stroke-width="0.45" stroke-opacity=".6" transform="rotate(-43.103) translate(139.30,1.27) scale(.1)" textLength="771" lengthAdjust="spacingAndGlyphs">CYP61A1 KIY75600 1 Cryptococcus gattii E566</text>
<text stroke="#000" stroke-width="0.45" stroke-opacity=".6" transform="rotate(-41.379) translate(139.30,1.27) scale(.1)" textLength="788" lengthAdjust="spacingAndGlyphs">CYP61A1 KGB55138 2 Cryptococcus gattii E566</text>
<text stroke="#000" stroke-width="0.45" stroke-opacity=".6" transform="rotate(-39.655) translate(139.30,1.27) scale(.1)" textLength="784" lengthAdjust="spacingAndGlyphs">CYP61A1 XP 49000 2 Cryptococcus gattii NT 10</text>
<text fill-opacity=".85" transform="rotate(-37.931) translate(139.30,1.27) scale(.1)" textLength="1099" lengthAdjust="spacingAndGlyphs">CYP5263B1 585094 Naematelia encephala UCDFST 68 887 2 v1 0</text>
<text fill-opacity=".85" transform="rotate(-36.207) translate(139.30,1.27) scale(.1)" textLength="837" lengthAdjust="spacingAndGlyphs">CYP5263A1 60435 Tremella mesenterica Fries v1 0</text>
<text fill-opacity=".85" transform="rotate(-34.483) translate(139.30,1.27) scale(.1)" textLength="831" lengthAdjust="spacingAndGlyphs">CYP5263A2 60432 Tremella mesenterica Fries v1 0</text>
<text fill-opacity=".85" transform="rotate(-32.759) translate(139.30,1.27) scale(.1)" textLength="661" lengthAdjust="spacingAndGlyphs">CYP5261A3 804393 Cryptococcus terricola</text>
<text fill-opacity=".85" transform="rotate(-31.034) translate(139.30,1.27) scale(.1)" textLength="703" lengthAdjust="spacingAndGlyphs">CYP5262B1 805727 Cryptococcus terricola</text>
<text fill-opacity=".85" transform="rotate(-29.310) translate(139.30,1.27) scale(.1)" textLength="727" lengthAdjust="spacingAndGlyphs">CYP5262C1 388717 Cryptococcus wieringae</text>
<text fill-opacity=".85" transform="rotate(-27.586) translate(139.30,1.27) scale(.1)" textLength="711" lengthAdjust="spacingAndGlyphs">CYP5089C1 368902 Cryptococcus curvatus</text>
<text fill-opacity=".85" transform="rotate(-25.862) translate(139.30,1.27) scale(.1)" textLength="987" lengthAdjust="spacingAndGlyphs">CYP5089A1 334737 Trichosporon oleaginosus IBC0246 v1 0</text>
<text fill-opacity=".85" transform="rotate(-24.138) translate(139.30,1.27) scale(.1)" textLength="697" lengthAdjust="spacingAndGlyphs">CYP5089B1 576701 Cryptococcus wieringae</text>
<text fill-opacity=".85" transform="rotate(-22.414) translate(139.30,1.27) scale(.1)" textLength="679" lengthAdjust="spacingAndGlyphs">CYP5702A 406727 Cryptococcus terricola</text>
<text fill-opacity=".85" transform="rotate(-20.690) translate(139.30,1.27) scale(.1)" textLength="801" lengthAdjust="spacingAndGlyphs">CYP5702A4 285804 Cryptococcus vishniacii v1 0</text>
<text fill-opacity=".85" transform="rotate(-18.966) translate(139.30,1.27) scale(.1)" textLength="684" lengthAdjust="spacingAndGlyphs">CYP5702A1 379539 Cryptococcus curvatus</text>
<text fill-opacity=".85" transform="rotate(-17.241) translate(139.30,1.27) scale(.1)" textLength="966" lengthAdjust="spacingAndGlyphs">CYP5702A 289638 Trichosporon oleaginosus IBC0246 v1 0</text>
<text fill-opacity=".85" transform="rotate(-15.517) translate(139.30,1.27) scale(.1)" textLength="950" lengthAdjust="spacingAndGlyphs">CYP53A59 8505 Trichosporon asahii var asahii CBS 2479</text>
<text fill-opacity=".85" transform="rotate(-13.793) translate(139.30,1.27) scale(.1)" textLength="936" lengthAdjust="spacingAndGlyphs">CYP53A55 2621 Trichosporon asahii var asahii CBS 8904</text>
<text fill-opacity=".85" transform="rotate(-12.069) translate(139.30,1.27) scale(.1)" textLength="828" lengthAdjust="spacingAndGlyphs">CYP53A58 18232 Tremella mesenterica Fries v1 0</text>
<text fill-opacity=".85" transform="rotate(-10.345) translate(139.30,1.27) scale(.1)" textLength="694" lengthAdjust="spacingAndGlyphs">CYP5264A1 831634 Cryptococcus terricola</text>
<text fill-opacity=".85" transform="rotate(-8.621) translate(139.30,1.27) scale(.1)" textLength="724" lengthAdjust="spacingAndGlyphs">CYP5701B2 832526 Cryptococcus wieringae</text>
<text fill-opacity=".85" transform="rotate(-6.897) translate(139.30,1.27) scale(.1)" textLength="807" lengthAdjust="spacingAndGlyphs">CYP5701A5 278080 Cryptococcus vishniacii v1 0</text>
<text fill-opacity=".85" transform="rotate(-5.172) translate(139.30,1.27) scale(.1)" textLength="700" lengthAdjust="spacingAndGlyphs">CYP5704B1 814409 Cryptococcus terricola</text>
<text fill-opacity=".85" transform="rotate(-3.448) translate(139.30,1.27) scale(.1)" textLength="719" lengthAdjust="spacingAndGlyphs">CYP5704C1 576315 Cryptococcus wieringae</text>
<text fill-opacity=".85" transform="rotate(-1.724) translate(139.30,1.27) scale(.1)" textLength="812" lengthAdjust="spacingAndGlyphs">CYP5704A1 327024 Cryptococcus vishniacii v1 0</text>
<text stroke="#000" stroke-width="0.45" stroke-opacity=".6" transform="rotate(0.000) translate(139.30,1.27) scale(.1)" textLength="649" lengthAdjust="spacingAndGlyphs">CYP51F1 806580 Cryptococcus terricola</text>
<text stroke="#000" stroke-width="0.45" stroke-opacity=".6" transform="rotate(1.724) translate(139.30,1.27) scale(.1)" textLength="685" lengthAdjust="spacingAndGlyphs">CYP51F1 629006 Cryptococcus wieringae</text>
<text stroke="#000" stroke-width="0.45" stroke-opacity=".6" transform="rotate(3.448) translate(139.30,1.27) scale(.1)" textLength="759" lengthAdjust="spacingAndGlyphs">CYP51F1 345305 Cryptococcus vishniacii v1 0</text>
<text stroke="#000" stroke-width="0.45" stroke-opacity=".6" transform="rotate(5.172) translate(139.30,1.27) scale(.1)" textLength="996" lengthAdjust="spacingAndGlyphs">CYP51F1 637591 Kockovaella imperatrix NRRL Y 17943 v1 0</text>
<text stroke="#000" stroke-width="0.45" stroke-opacity=".6" transform="rotate(6.897) translate(139.30,1.27) scale(.1)" textLength="687" lengthAdjust="spacingAndGlyphs">CYP51F1 367271 Cryptococcus curvatus</text>
<text stroke="#000" stroke-width="0.45" stroke-opacity=".6" transform="rotate(8.621) translate(139.30,1.27) scale(.1)" textLength="938" lengthAdjust="spacingAndGlyphs">CYP51F1 3742 Trichosporon oleaginosus IBC0246 v1 0</text>
<text stroke="#000" stroke-width="0.45" stroke-opacity=".6" transform="rotate(10.345) translate(139.30,1.27) scale(.1)" textLength="920" lengthAdjust="spacingAndGlyphs">CYP51F1 4978 Trichosporon asahii var asahii CBS 2479</text>
<text stroke="#000" stroke-width="0.45" stroke-opacity=".6" transform="rotate(12.069) translate(139.30,1.27) scale(.1)" textLength="922" lengthAdjust="spacingAndGlyphs">CYP51F1 36931 Trichosporon asahii var asahii CBS 8904</text>
<text stroke="#000" stroke-width="0.45" stroke-opacity=".6" transform="rotate(13.793) translate(139.30,1.27) scale(.1)" textLength="787" lengthAdjust="spacingAndGlyphs">CYP51F1 52263 Tremella mesenterica Fries v1 0</text>
<text stroke="#000" stroke-width="0.45" stroke-opacity=".6" transform="rotate(15.517) translate(139.30,1.27) scale(.1)" textLength="1048" lengthAdjust="spacingAndGlyphs">CYP51F1 582841 Naematelia encephala UCDFST 68 887 2 v1 0</text>
<text stroke="#000" stroke-width="0.45" stroke-opacity=".6" transform="rotate(17.241) translate(139.30,1.27) scale(.1)" textLength="969" lengthAdjust="spacingAndGlyphs">CYP51F1 AAW89768 1 Cryptococcus gattii VGII 2001 935 1</text>
<text stroke="#000" stroke-width="0.45" stroke-opacity=".6" transform="rotate(18.966) translate(139.30,1.27) scale(.1)" textLength="1066" lengthAdjust="spacingAndGlyphs">CYP51F1 573540 Naematelia encephala UCDFST 68 887 2 v1 0</text>
<text stroke="#000" stroke-width="0.45" stroke-opacity=".6" transform="rotate(20.690) translate(139.30,1.27) scale(.1)" textLength="1105" lengthAdjust="spacingAndGlyphs">CYP51F1 787179 Naematelia encephala UCDFST 68 887 2 v1 0</text>
<text stroke="#000" stroke-width="0.45" stroke-opacity=".6" transform="rotate(22.414) translate(139.30,1.27) scale(.1)" textLength="1112" lengthAdjust="spacingAndGlyphs">CYP51F1 XP 55091 1 Cryptococcus neoformans var neoformans JEC21</text>
<text stroke="#000" stroke-width="0.45" stroke-opacity=".6" transform="rotate(24.138) translate(139.30,1.27) scale(.1)" textLength="939" lengthAdjust="spacingAndGlyphs">CYP51F1 118535 Trichosporon oleaginosus IBC0246 v1 0</text>
<text stroke="#000" stroke-width="0.45" stroke-opacity=".6" transform="rotate(25.862) translate(139.30,1.27) scale(.1)" textLength="946" lengthAdjust="spacingAndGlyphs">CYP51F1 KIY48386 1 Cryptococcus gattii VGII 2001 935 1</text>
<text stroke="#000" stroke-width="0.45" stroke-opacity=".6" transform="rotate(27.586) translate(139.30,1.27) scale(.1)" textLength="877" lengthAdjust="spacingAndGlyphs">CYP51F1 XP 51355 2 Cryptococcus gattii VGII 99 473</text>
<text stroke="#000" stroke-width="0.45" stroke-opacity=".6" transform="rotate(29.310) translate(139.30,1.27) scale(.1)" textLength="873" lengthAdjust="spacingAndGlyphs">CYP51F1 KGB74229 1 Cryptococcus gattii VGII R265</text>
<text stroke="#000" stroke-width="0.45" stroke-opacity=".6" transform="rotate(31.034) translate(139.30,1.27) scale(.1)" textLength="901" lengthAdjust="spacingAndGlyphs">CYP51F1 KIR27300 1 Cryptococcus gattii VGII CA1014</text>
<text stroke="#000" stroke-width="0.45" stroke-opacity=".6" transform="rotate(32.759) translate(139.30,1.27) scale(.1)" textLength="782" lengthAdjust="spacingAndGlyphs">CYP51F1 KIP50925 1 Cryptococcus gattii NT 10</text>
<text stroke="#000" stroke-width="0.45" stroke-opacity=".6" transform="rotate(34.483) translate(139.30,1.27) scale(.1)" textLength="769" lengthAdjust="spacingAndGlyphs">CYP51F1 KIY22357 2 Cryptococcus gattii E566</text>
<text stroke="#000" stroke-width="0.45" stroke-opacity=".6" transform="rotate(36.207) translate(139.30,1.27) scale(.1)" textLength="852" lengthAdjust="spacingAndGlyphs">CYP51F1 KIY61671 2 Cryptococcus gattii VGII LA55</text>
<text stroke="#000" stroke-width="0.45" stroke-opacity=".6" transform="rotate(37.931) translate(139.30,1.27) scale(.1)" textLength="768" lengthAdjust="spacingAndGlyphs">CYP51F1 XP 91163 1 Cryptococcus gattii EJB2</text>
<text stroke="#000" stroke-width="0.45" stroke-opacity=".6" transform="rotate(39.655) translate(139.30,1.27) scale(.1)" textLength="796" lengthAdjust="spacingAndGlyphs">CYP505D32 460110 Cryptococcus vishniacii v1 0</text>
<text stroke="#000" stroke-width="0.45" stroke-opacity=".6" transform="rotate(41.379) translate(139.30,1.27) scale(.1)" textLength="690" lengthAdjust="spacingAndGlyphs">CYP505D32 21777 Cryptococcus curvatus</text>
<text stroke="#000" stroke-width="0.45" stroke-opacity=".6" transform="rotate(43.103) translate(139.30,1.27) scale(.1)" textLength="945" lengthAdjust="spacingAndGlyphs">CYP505D34 KGB91319 1 Cryptococcus gattii VGI WM276</text>
<text stroke="#000" stroke-width="0.45" stroke-opacity=".6" transform="rotate(44.828) translate(139.30,1.27) scale(.1)" textLength="957" lengthAdjust="spacingAndGlyphs">CYP505D32 EAL53024 2 Cryptococcus gattii VGIV IND107</text>
<text stroke="#000" stroke-width="0.45" stroke-opacity=".6" transform="rotate(46.552) translate(139.30,1.27) scale(.1)" textLength="957" lengthAdjust="spacingAndGlyphs">CYP505D33 EAL58440 1 Cryptococcus gattii VGIV IND107</text>
<text stroke="#000" stroke-width="0.45" stroke-opacity=".6" transform="rotate(48.276) translate(139.30,1.27) scale(.1)" textLength="955" lengthAdjust="spacingAndGlyphs">CYP505D32 AFR20950 1 Cryptococcus gattii VGII CA1014</text>
<text stroke="#000" stroke-width="0.45" stroke-opacity=".6" transform="rotate(50.000) translate(139.30,1.27) scale(.1)" textLength="960" lengthAdjust="spacingAndGlyphs">CYP505D32 AFR46636 1 Cryptococcus gattii VGIV IND107</text>
<text stroke="#000" stroke-width="0.45" stroke-opacity=".6" transform="rotate(51.724) translate(139.30,1.27) scale(.1)" textLength="973" lengthAdjust="spacingAndGlyphs">CYP505D32 84690 Trichosporon oleaginosus IBC0246 v1 0</text>
<text stroke="#000" stroke-width="0.45" stroke-opacity=".6" transform="rotate(53.448) translate(139.30,1.27) scale(.1)" textLength="718" lengthAdjust="spacingAndGlyphs">CYP505D34 647650 Cryptococcus curvatus</text>
<text stroke="#000" stroke-width="0.45" stroke-opacity=".6" transform="rotate(55.172) translate(139.30,1.27) scale(.1)" textLength="989" lengthAdjust="spacingAndGlyphs">CYP505D32 626137 Trichosporon oleaginosus IBC0246 v1 0</text>
<text stroke="#000" stroke-width="0.45" stroke-opacity=".6" transform="rotate(56.897) translate(139.30,1.27) scale(.1)" textLength="971" lengthAdjust="spacingAndGlyphs">CYP505D33 37858 Trichosporon oleaginosus IBC0246 v1 0</text>
<text stroke="#000" stroke-width="0.45" stroke-opacity=".6" transform="rotate(58.621) translate(139.30,1.27) scale(.1)" textLength="968" lengthAdjust="spacingAndGlyphs">CYP505D34 40105 Trichosporon oleaginosus IBC0246 v1 0</text>
<text fill-opacity=".85" transform="rotate(60.345) translate(139.30,1.27) scale(.1)" textLength="1038" lengthAdjust="spacingAndGlyphs">CYP5263A2 560377 Kockovaella imperatrix NRRL Y 17943 v1 0</text>
<text fill-opacity=".85" transform="rotate(62.069) translate(139.30,1.27) scale(.1)" textLength="1056" lengthAdjust="spacingAndGlyphs">CYP5263A3 560339 Kockovaella imperatrix NRRL Y 17943 v1 0</text>
<text fill-opacity=".85" transform="rotate(63.793) translate(139.30,1.27) scale(.1)" textLength="1106" lengthAdjust="spacingAndGlyphs">CYP5263B2 514524 Naematelia encephala UCDFST 68 887 2 v1 0</text>
<text fill-opacity=".85" transform="rotate(65.517) translate(139.30,1.27) scale(.1)" textLength="824" lengthAdjust="spacingAndGlyphs">CYP5263C1 253414 Cryptococcus vishniacii v1 0</text>
<text stroke="#000" stroke-width="0.45" stroke-opacity=".6" transform="rotate(67.241) translate(139.30,1.27) scale(.1)" textLength="824" lengthAdjust="spacingAndGlyphs">CYP5215B1 XP 26277 1 Cryptococcus gattii NT 10</text>
<text stroke="#000" stroke-width="0.45" stroke-opacity=".6" transform="rotate(68.966) translate(139.30,1.27) scale(.1)" textLength="968" lengthAdjust="spacingAndGlyphs">CYP5215B1 31111 Trichosporon asahii var asahii CBS 2479</text>
<text stroke="#000" stroke-width="0.45" stroke-opacity=".6" transform="rotate(70.690) translate(139.30,1.27) scale(.1)" textLength="1084" lengthAdjust="spacingAndGlyphs">CYP5215A1 KGB80434 2 Cryptococcus neoformans var grubii H99</text>
<text stroke="#000" stroke-width="0.45" stroke-opacity=".6" transform="rotate(72.414) translate(139.30,1.27) scale(.1)" textLength="1116" lengthAdjust="spacingAndGlyphs">CYP5215A1 777151 Naematelia encephala UCDFST 68 887 2 v1 0</text>
<text stroke="#000" stroke-width="0.45" stroke-opacity=".6" transform="rotate(74.138) translate(139.30,1.27) scale(.1)" textLength="1113" lengthAdjust="spacingAndGlyphs">CYP5215B1 453173 Naematelia encephala UCDFST 68 887 2 v1 0</text>
<text stroke="#000" stroke-width="0.45" stroke-opacity=".6" transform="rotate(75.862) translate(139.30,1.27) scale(.1)" textLength="924" lengthAdjust="spacingAndGlyphs">CYP5215A1 KGB78636 2 Cryptococcus gattii VGII Ram5</text>
<text stroke="#000" stroke-width="0.45" stroke-opacity=".6" transform="rotate(77.586) translate(139.30,1.27) scale(.1)" textLength="910" lengthAdjust="spacingAndGlyphs">CYP5215A2 EAL96542 2 Cryptococcus gattii VGII R265</text>
<text stroke="#000" stroke-width="0.45" stroke-opacity=".6" transform="rotate(79.310) translate(139.30,1.27) scale(.1)" textLength="979" lengthAdjust="spacingAndGlyphs">CYP5215A2 97027 Trichosporon asahii var asahii CBS 8904</text>
<text stroke="#000" stroke-width="0.45" stroke-opacity=".6" transform="rotate(81.034) translate(139.30,1.27) scale(.1)" textLength="994" lengthAdjust="spacingAndGlyphs">CYP5215B1 XP 46140 1 Cryptococcus gattii VGII CBS 10090</text>
<text stroke="#000" stroke-width="0.45" stroke-opacity=".6" transform="rotate(82.759) translate(139.30,1.27) scale(.1)" textLength="792" lengthAdjust="spacingAndGlyphs">CYP5215A1 112749 Cryptococcus vishniacii v1 0</text>
<text stroke="#000" stroke-width="0.45" stroke-opacity=".6" transform="rotate(84.483) translate(139.30,1.27) scale(.1)" textLength="803" lengthAdjust="spacingAndGlyphs">CYP5215A2 277365 Cryptococcus vishniacii v1 0</text>
<text stroke="#000" stroke-width="0.45" stroke-opacity=".6" transform="rotate(86.207) translate(139.30,1.27) scale(.1)" textLength="879" lengthAdjust="spacingAndGlyphs">CYP5215A1 KGB64025 2 Cryptococcus gattii CA1873</text>
<text stroke="#000" stroke-width="0.45" stroke-opacity=".6" transform="rotate(87.931) translate(139.30,1.27) scale(.1)" textLength="830" lengthAdjust="spacingAndGlyphs">CYP5215A1 KGB82689 2 Cryptococcus gattii E566</text>
<text fill-opacity=".85" transform="rotate(89.655) translate(139.30,1.27) scale(.1)" textLength="1040" lengthAdjust="spacingAndGlyphs">CYP5887B1 581558 Kockovaella imperatrix NRRL Y 17943 v1 0</text>
<text fill-opacity=".85" transform="rotate(271.379) translate(-238.18,1.27) scale(.1)" textLength="989" lengthAdjust="spacingAndGlyphs">CYP5887A1 7181 Trichosporon asahii var asahii CBS 2479</text>
<text fill-opacity=".85" transform="rotate(273.103) translate(-237.37,1.27) scale(.1)" textLength="981" lengthAdjust="spacingAndGlyphs">CYP5887A2 2214 Trichosporon asahii var asahii CBS 8904</text>
<text fill-opacity=".85" transform="rotate(274.828) translate(-244.16,1.27) scale(.1)" textLength="1049" lengthAdjust="spacingAndGlyphs">CYP5880B2 502196 Kockovaella imperatrix NRRL Y 17943 v1 0</text>
<text fill-opacity=".85" transform="rotate(276.552) translate(-246.09,1.27) scale(.1)" textLength="1068" lengthAdjust="spacingAndGlyphs">CYP5880B1 480805 Naematelia encephala UCDFST 68 887 2 v1 0</text>
<text fill-opacity=".85" transform="rotate(278.276) translate(-243.57,1.27) scale(.1)" textLength="1043" lengthAdjust="spacingAndGlyphs">CYP5880A1 545560 Kockovaella imperatrix NRRL Y 17943 v1 0</text>
<text fill-opacity=".85" transform="rotate(280.000) translate(-248.33,1.27) scale(.1)" textLength="1090" lengthAdjust="spacingAndGlyphs">CYP5880C1 512990 Naematelia encephala UCDFST 68 887 2 v1 0</text>
<text fill-opacity=".85" transform="rotate(281.724) translate(-236.29,1.27) scale(.1)" textLength="970" lengthAdjust="spacingAndGlyphs">CYP5878C3 8508 Trichosporon asahii var asahii CBS 8904</text>
<text fill-opacity=".85" transform="rotate(283.448) translate(-236.42,1.27) scale(.1)" textLength="971" lengthAdjust="spacingAndGlyphs">CYP5878C2 2917 Trichosporon asahii var asahii CBS 2479</text>
<text fill-opacity=".85" transform="rotate(285.172) translate(-208.71,1.27) scale(.1)" textLength="694" lengthAdjust="spacingAndGlyphs">CYP5878A3 42250 Cryptococcus terricola</text>
<text fill-opacity=".85" transform="rotate(286.897) translate(-239.34,1.27) scale(.1)" textLength="1000" lengthAdjust="spacingAndGlyphs">CYP5878A2 285727 Trichosporon oleaginosus IBC0246 v1 0</text>
<text fill-opacity=".85" transform="rotate(288.621) translate(-210.96,1.27) scale(.1)" textLength="717" lengthAdjust="spacingAndGlyphs">CYP5878B1 380327 Cryptococcus curvatus</text>
<text fill-opacity=".85" transform="rotate(290.345) translate(-239.18,1.27) scale(.1)" textLength="999" lengthAdjust="spacingAndGlyphs">CYP5878A1 305308 Trichosporon oleaginosus IBC0246 v1 0</text>
<text stroke="#000" stroke-width="0.45" stroke-opacity=".6" transform="rotate(292.069) translate(-211.25,1.27) scale(.1)" textLength="719" lengthAdjust="spacingAndGlyphs">CYP5139A10 230796 Cryptococcus terricola</text>
<text stroke="#000" stroke-width="0.45" stroke-opacity=".6" transform="rotate(293.793) translate(-239.07,1.27) scale(.1)" textLength="998" lengthAdjust="spacingAndGlyphs">CYP5139B2 124235 Trichosporon asahii var asahii CBS 2479</text>
<text stroke="#000" stroke-width="0.45" stroke-opacity=".6" transform="rotate(295.517) translate(-237.81,1.27) scale(.1)" textLength="985" lengthAdjust="spacingAndGlyphs">CYP5139B1 639769 Trichosporon oleaginosus IBC0246 v1 0</text>
<text stroke="#000" stroke-width="0.45" stroke-opacity=".6" transform="rotate(297.241) translate(-238.15,1.27) scale(.1)" textLength="989" lengthAdjust="spacingAndGlyphs">CYP5139C1 560631 Trichosporon oleaginosus IBC0246 v1 0</text>
<text stroke="#000" stroke-width="0.45" stroke-opacity=".6" transform="rotate(298.966) translate(-210.29,1.27) scale(.1)" textLength="710" lengthAdjust="spacingAndGlyphs">CYP5139C1 352416 Cryptococcus curvatus</text>
<text stroke="#000" stroke-width="0.45" stroke-opacity=".6" transform="rotate(300.690) translate(-238.30,1.27) scale(.1)" textLength="990" lengthAdjust="spacingAndGlyphs">CYP5139A9 KIP97540 2 Cryptococcus gattii VGII 2001 935 1</text>
<text stroke="#000" stroke-width="0.45" stroke-opacity=".6" transform="rotate(302.414) translate(-235.18,1.27) scale(.1)" textLength="959" lengthAdjust="spacingAndGlyphs">CYP5139C1 7259 Trichosporon asahii var asahii CBS 2479</text>
<text stroke="#000" stroke-width="0.45" stroke-opacity=".6" transform="rotate(304.138) translate(-236.98,1.27) scale(.1)" textLength="977" lengthAdjust="spacingAndGlyphs">CYP5139A10 AFR95347 2 Cryptococcus gattii VGIV IND107</text>
<text stroke="#000" stroke-width="0.45" stroke-opacity=".6" transform="rotate(305.862) translate(-211.32,1.27) scale(.1)" textLength="720" lengthAdjust="spacingAndGlyphs">CYP5139A10 641231 Cryptococcus terricola</text>
<text stroke="#000" stroke-width="0.45" stroke-opacity=".6" transform="rotate(307.586) translate(-239.93,1.27) scale(.1)" textLength="1006" lengthAdjust="spacingAndGlyphs">CYP5139A10 738486 Trichosporon oleaginosus IBC0246 v1 0</text>
<text stroke="#000" stroke-width="0.45" stroke-opacity=".6" transform="rotate(309.310) translate(-237.38,1.27) scale(.1)" textLength="981" lengthAdjust="spacingAndGlyphs">CYP5139B1 711094 Trichosporon oleaginosus IBC0246 v1 0</text>
<text stroke="#000" stroke-width="0.45" stroke-opacity=".6" transform="rotate(311.034) translate(-237.65,1.27) scale(.1)" textLength="983" lengthAdjust="spacingAndGlyphs">CYP5139A10 40933 Trichosporon oleaginosus IBC0246 v1 0</text>
<text stroke="#000" stroke-width="0.45" stroke-opacity=".6" transform="rotate(312.759) translate(-210.76,1.27) scale(.1)" textLength="715" lengthAdjust="spacingAndGlyphs">CYP5139C1 483843 Cryptococcus curvatus</text>
<text stroke="#000" stroke-width="0.45" stroke-opacity=".6" transform="rotate(314.483) translate(-239.91,1.27) scale(.1)" textLength="1006" lengthAdjust="spacingAndGlyphs">CYP5139C1 AFR11832 2 Cryptococcus gattii VGII CBS 10090</text>
<text stroke="#000" stroke-width="0.45" stroke-opacity=".6" transform="rotate(316.207) translate(-242.98,1.27) scale(.1)" textLength="1037" lengthAdjust="spacingAndGlyphs">CYP5139A9 669413 Kockovaella imperatrix NRRL Y 17943 v1 0</text>
<text stroke="#000" stroke-width="0.45" stroke-opacity=".6" transform="rotate(317.931) translate(-242.94,1.27) scale(.1)" textLength="1036" lengthAdjust="spacingAndGlyphs">CYP5139A10 24934 Kockovaella imperatrix NRRL Y 17943 v1 0</text>
<text stroke="#000" stroke-width="0.45" stroke-opacity=".6" transform="rotate(319.655) translate(-241.92,1.27) scale(.1)" textLength="1026" lengthAdjust="spacingAndGlyphs">CYP5139C1 2740585455 Cryptococcus amylolentus CBS 6273</text>
<text stroke="#000" stroke-width="0.45" stroke-opacity=".6" transform="rotate(321.379) translate(-242.11,1.27) scale(.1)" textLength="1028" lengthAdjust="spacingAndGlyphs">CYP5139C1 2740580713 Cryptococcus amylolentus CBS 6273</text>
<text stroke="#000" stroke-width="0.45" stroke-opacity=".6" transform="rotate(323.103) translate(-237.98,1.27) scale(.1)" textLength="987" lengthAdjust="spacingAndGlyphs">CYP5139C1 684709 Trichosporon oleaginosus IBC0246 v1 0</text>
<text stroke="#000" stroke-width="0.45" stroke-opacity=".6" transform="rotate(324.828) translate(-237.23,1.27) scale(.1)" textLength="979" lengthAdjust="spacingAndGlyphs">CYP5139A10 AFR24220 1 Cryptococcus gattii VGIV IND107</text>
<text stroke="#000" stroke-width="0.45" stroke-opacity=".6" transform="rotate(326.552) translate(-210.43,1.27) scale(.1)" textLength="711" lengthAdjust="spacingAndGlyphs">CYP5139C1 145875 Cryptococcus curvatus</text>
<text stroke="#000" stroke-width="0.45" stroke-opacity=".6" transform="rotate(328.276) translate(-238.96,1.27) scale(.1)" textLength="997" lengthAdjust="spacingAndGlyphs">CYP5139B1 KIY48319 1 Cryptococcus gattii VGII MMRL2647</text>
<text stroke="#000" stroke-width="0.45" stroke-opacity=".6" transform="rotate(330.000) translate(-210.40,1.27) scale(.1)" textLength="711" lengthAdjust="spacingAndGlyphs">CYP5139C1 749760 Cryptococcus curvatus</text>
<text stroke="#000" stroke-width="0.45" stroke-opacity=".6" transform="rotate(331.724) translate(-239.22,1.27) scale(.1)" textLength="999" lengthAdjust="spacingAndGlyphs">CYP5139C1 724701 Trichosporon asahii var asahii CBS 2479</text>
<text stroke="#000" stroke-width="0.45" stroke-opacity=".6" transform="rotate(333.448) translate(-212.34,1.27) scale(.1)" textLength="730" lengthAdjust="spacingAndGlyphs">CYP5139C1 830237 Cryptococcus wieringae</text>
<text stroke="#000" stroke-width="0.45" stroke-opacity=".6" transform="rotate(335.172) translate(-209.61,1.27) scale(.1)" textLength="703" lengthAdjust="spacingAndGlyphs">CYP5139A10 804711 Cryptococcus terricola</text>
<text stroke="#000" stroke-width="0.45" stroke-opacity=".6" transform="rotate(336.897) translate(-218.46,1.27) scale(.1)" textLength="792" lengthAdjust="spacingAndGlyphs">CYP5139A7 262188 Cryptococcus vishniacii v1 0</text>
<text stroke="#000" stroke-width="0.45" stroke-opacity=".6" transform="rotate(338.621) translate(-242.74,1.27) scale(.1)" textLength="1034" lengthAdjust="spacingAndGlyphs">CYP5139A9 2740584835 Cryptococcus amylolentus CBS 6039</text>
<text stroke="#000" stroke-width="0.45" stroke-opacity=".6" transform="rotate(340.345) translate(-234.62,1.27) scale(.1)" textLength="953" lengthAdjust="spacingAndGlyphs">CYP5139A11 3796 Trichosporon asahii var asahii CBS 8904</text>
<text stroke="#000" stroke-width="0.45" stroke-opacity=".6" transform="rotate(342.069) translate(-236.38,1.27) scale(.1)" textLength="971" lengthAdjust="spacingAndGlyphs">CYP5139A11 4252 Trichosporon asahii var asahii CBS 2479</text>
<text stroke="#000" stroke-width="0.45" stroke-opacity=".6" transform="rotate(343.793) translate(-210.20,1.27) scale(.1)" textLength="709" lengthAdjust="spacingAndGlyphs">CYP5139A21 278080 Cryptococcus curvatus</text>
<text stroke="#000" stroke-width="0.45" stroke-opacity=".6" transform="rotate(345.517) translate(-238.68,1.27) scale(.1)" textLength="994" lengthAdjust="spacingAndGlyphs">CYP5139A21 266226 Trichosporon oleaginosus IBC0246 v1 0</text>
<text stroke="#000" stroke-width="0.45" stroke-opacity=".6" transform="rotate(347.241) translate(-242.81,1.27) scale(.1)" textLength="1035" lengthAdjust="spacingAndGlyphs">CYP5139A1 2740584526 Cryptococcus amylolentus CBS 6273</text>
<text stroke="#000" stroke-width="0.45" stroke-opacity=".6" transform="rotate(348.966) translate(-240.41,1.27) scale(.1)" textLength="1011" lengthAdjust="spacingAndGlyphs">CYP5139A 2740584549 Cryptococcus amylolentus CBS 6039</text>
<text stroke="#000" stroke-width="0.45" stroke-opacity=".6" transform="rotate(350.690) translate(-242.45,1.27) scale(.1)" textLength="1031" lengthAdjust="spacingAndGlyphs">CYP5139B6 518988 Kockovaella imperatrix NRRL Y 17943 v1 0</text>
<text stroke="#000" stroke-width="0.45" stroke-opacity=".6" transform="rotate(352.414) translate(-246.83,1.27) scale(.1)" textLength="1075" lengthAdjust="spacingAndGlyphs">CYP5139B7 520702 Naematelia encephala UCDFST 68 887 2 v1 0</text>
<text stroke="#000" stroke-width="0.45" stroke-opacity=".6" transform="rotate(354.138) translate(-222.08,1.27) scale(.1)" textLength="828" lengthAdjust="spacingAndGlyphs">CYP5139B2 38021 Tremella mesenterica Fries v1 0</text>
<text stroke="#000" stroke-width="0.45" stroke-opacity=".6" transform="rotate(355.862) translate(-240.53,1.27) scale(.1)" textLength="1012" lengthAdjust="spacingAndGlyphs">CYP5139B3 2740584894 Cryptococcus amylolentus CBS 6273</text>
<text stroke="#000" stroke-width="0.45" stroke-opacity=".6" transform="rotate(357.586) translate(-238.64,1.27) scale(.1)" textLength="993" lengthAdjust="spacingAndGlyphs">CYP5139D 2740584893 Cryptococcus amylolentus CBS 6039</text>
<text stroke="#000" stroke-width="0.45" stroke-opacity=".6" transform="rotate(359.310) translate(-247.12,1.27) scale(.1)" textLength="1078" lengthAdjust="spacingAndGlyphs">CYP5139B1 AFR96161 2 Cryptococcus neoformans var grubii H99</text>
<text stroke="#000" stroke-width="0.45" stroke-opacity=".6" transform="rotate(361.034) translate(-249.54,1.27) scale(.1)" textLength="1102" lengthAdjust="spacingAndGlyphs">CYP5139B1 EAL20013 1 Cryptococcus neoformans var neoformans</text>
<text stroke="#000" stroke-width="0.45" stroke-opacity=".6" transform="rotate(362.759) translate(-251.26,1.27) scale(.1)" textLength="1120" lengthAdjust="spacingAndGlyphs">CYP5139B1 AAW42809 1 Cryptococcus neoformans var neoformans</text>
<text stroke="#000" stroke-width="0.45" stroke-opacity=".6" transform="rotate(364.483) translate(-237.52,1.27) scale(.1)" textLength="982" lengthAdjust="spacingAndGlyphs">CYP5139B1 KIP93015 1 Cryptococcus gattii VGII CBS 10090</text>
<text stroke="#000" stroke-width="0.45" stroke-opacity=".6" transform="rotate(366.207) translate(-230.25,1.27) scale(.1)" textLength="909" lengthAdjust="spacingAndGlyphs">CYP5139B1 KIY58563 1 Cryptococcus gattii VGII 99 473</text>
<text stroke="#000" stroke-width="0.45" stroke-opacity=".6" transform="rotate(367.931) translate(-230.33,1.27) scale(.1)" textLength="910" lengthAdjust="spacingAndGlyphs">CYP5139B1 KGB75881 1 Cryptococcus gattii VGII LA55</text>
<text stroke="#000" stroke-width="0.45" stroke-opacity=".6" transform="rotate(369.655) translate(-236.97,1.27) scale(.1)" textLength="977" lengthAdjust="spacingAndGlyphs">CYP5139B1 KIR49497 1 Cryptococcus gattii VGII CA1014</text>
<text stroke="#000" stroke-width="0.45" stroke-opacity=".6" transform="rotate(371.379) translate(-232.74,1.27) scale(.1)" textLength="934" lengthAdjust="spacingAndGlyphs">CYP5139B1 KIR86319 1 Cryptococcus gattii VGII R265</text>
<text stroke="#000" stroke-width="0.45" stroke-opacity=".6" transform="rotate(373.103) translate(-219.00,1.27) scale(.1)" textLength="797" lengthAdjust="spacingAndGlyphs">CYP5139B1 KIY33856 1 Cryptococcus gattii NT 10</text>
<text stroke="#000" stroke-width="0.45" stroke-opacity=".6" transform="rotate(374.828) translate(-226.92,1.27) scale(.1)" textLength="876" lengthAdjust="spacingAndGlyphs">CYP5139B1 KGB79309 1 Cryptococcus gattii VGII R265</text>
<text stroke="#000" stroke-width="0.45" stroke-opacity=".6" transform="rotate(376.552) translate(-222.16,1.27) scale(.1)" textLength="829" lengthAdjust="spacingAndGlyphs">CYP5139B1 KIR50506 1 Cryptococcus gattii CA1280</text>
<text stroke="#000" stroke-width="0.45" stroke-opacity=".6" transform="rotate(378.276) translate(-220.12,1.27) scale(.1)" textLength="808" lengthAdjust="spacingAndGlyphs">CYP5139B1 KIR65527 1 Cryptococcus gattii CA1873</text>
</g>
</g>
<rect x="8" y="20.5" width="65.2" height="117" fill="#fff" stroke="#c4c4c4" stroke-width="1"/><text x="13.4" y="30.1" font-size="9.65" font-weight="bold" fill="#000">Taxonomy</text><line x1="9" y1="34.4" x2="72" y2="34.4" stroke="#ccc" stroke-width="0.8"/><rect x="13.4" y="38.3" width="11.4" height="11.4" fill="#4CBB7A" stroke="rgba(0,0,0,.25)" stroke-width=".6"/><text x="30" y="46.7" font-size="8.15" fill="#111">CYP51</text><rect x="13.4" y="54.8" width="11.4" height="11.4" fill="#9999FF" stroke="rgba(0,0,0,.25)" stroke-width=".6"/><text x="30" y="63.2" font-size="8.15" fill="#111">CYP61</text><rect x="13.4" y="71.2" width="11.4" height="11.4" fill="#FFFF00" stroke="rgba(0,0,0,.25)" stroke-width=".6"/><text x="30" y="79.6" font-size="8.15" fill="#111">CYP505</text><rect x="13.4" y="87.6" width="11.4" height="11.4" fill="#FFB266" stroke="rgba(0,0,0,.25)" stroke-width=".6"/><text x="30" y="96.0" font-size="8.15" fill="#111">CYP5139</text><rect x="13.4" y="104.1" width="11.4" height="11.4" fill="#FF9999" stroke="rgba(0,0,0,.25)" stroke-width=".6"/><text x="30" y="112.5" font-size="8.15" fill="#111">CYP5215</text><rect x="13.4" y="120.6" width="11.4" height="11.4" fill="#EE99FF" stroke="rgba(0,0,0,.25)" stroke-width=".6"/><text x="30" y="129.0" font-size="8.15" fill="#111">CYP5216</text><text x="109" y="27.7" font-size="8.1" font-weight="bold" text-anchor="middle" fill="#000">0.1</text><line x1="94.8" y1="35.9" x2="123.6" y2="35.9" stroke="#8c8c8c" stroke-width="1.7"/>
</svg>
</body></html>
